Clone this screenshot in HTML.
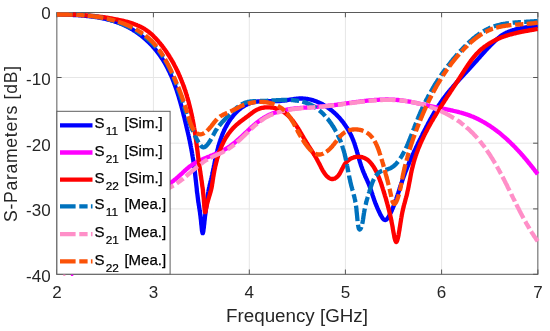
<!DOCTYPE html>
<html><head><meta charset="utf-8"><style>
html,body{margin:0;padding:0;background:#fff;}
svg{display:block;}
text{font-family:"Liberation Sans",Arial,sans-serif;fill:#262626;}
.tk{font-size:17px;}
.ax{font-size:18.8px;}
.ay{font-size:17.6px;}
.lg{font-size:15px;fill:#000;stroke:#000;stroke-width:0.25px;}
.sub{font-size:11.8px;fill:#000;stroke:#000;stroke-width:0.2px;}
</style></head><body>
<svg width="550" height="331" viewBox="0 0 550 331">
<rect width="550" height="331" fill="#fff"/>
<g stroke="#e6e6e6" stroke-width="1"><line x1="153.4" y1="12.5" x2="153.4" y2="274.3"/><line x1="249.3" y1="12.5" x2="249.3" y2="274.3"/><line x1="345.4" y1="12.5" x2="345.4" y2="274.3"/><line x1="441.6" y1="12.5" x2="441.6" y2="274.3"/><line x1="56.9" y1="77.5" x2="537.9" y2="77.5"/><line x1="56.9" y1="143.2" x2="537.9" y2="143.2"/><line x1="56.9" y1="208.9" x2="537.9" y2="208.9"/></g>
<g stroke="#555" stroke-width="1"><line x1="56.9" y1="274.3" x2="56.9" y2="269.5"/><line x1="56.9" y1="12.5" x2="56.9" y2="17.3"/><line x1="153.4" y1="274.3" x2="153.4" y2="269.5"/><line x1="153.4" y1="12.5" x2="153.4" y2="17.3"/><line x1="249.3" y1="274.3" x2="249.3" y2="269.5"/><line x1="249.3" y1="12.5" x2="249.3" y2="17.3"/><line x1="345.4" y1="274.3" x2="345.4" y2="269.5"/><line x1="345.4" y1="12.5" x2="345.4" y2="17.3"/><line x1="441.6" y1="274.3" x2="441.6" y2="269.5"/><line x1="441.6" y1="12.5" x2="441.6" y2="17.3"/><line x1="537.9" y1="274.3" x2="537.9" y2="269.5"/><line x1="537.9" y1="12.5" x2="537.9" y2="17.3"/><line x1="56.9" y1="12.5" x2="61.6" y2="12.5"/><line x1="537.9" y1="12.5" x2="533.1" y2="12.5"/><line x1="56.9" y1="77.5" x2="61.6" y2="77.5"/><line x1="537.9" y1="77.5" x2="533.1" y2="77.5"/><line x1="56.9" y1="143.2" x2="61.6" y2="143.2"/><line x1="537.9" y1="143.2" x2="533.1" y2="143.2"/><line x1="56.9" y1="208.9" x2="61.6" y2="208.9"/><line x1="537.9" y1="208.9" x2="533.1" y2="208.9"/><line x1="56.9" y1="274.3" x2="61.6" y2="274.3"/><line x1="537.9" y1="274.3" x2="533.1" y2="274.3"/></g>
<rect x="56.85" y="12.5" width="481.0" height="261.8" fill="none" stroke="#5a5a5a" stroke-width="1"/>
<g fill="none" stroke-linejoin="round"><path d="M57.01,14.30L57.9,14.3L58.7,14.4L59.6,14.4L60.4,14.4L61.3,14.4L62.1,14.5L63.0,14.5L63.9,14.5L64.7,14.6L65.6,14.6L66.5,14.6L67.3,14.7L68.2,14.7L69.1,14.8L70.0,14.8L70.9,14.8L71.7,14.9L72.6,14.9L73.5,15.0L74.4,15.0L75.3,15.1L76.2,15.1L77.1,15.2L78.0,15.2L78.9,15.3L79.8,15.4L80.6,15.4L81.5,15.5L82.4,15.6L83.3,15.6L84.2,15.7L85.1,15.8L86.0,15.9L86.9,16.0L87.8,16.1L88.7,16.2L89.6,16.3L90.5,16.4L91.4,16.5L92.3,16.6L93.2,16.7L94.1,16.8L95.0,17.0L95.9,17.1L96.7,17.2L97.6,17.4L98.5,17.5L99.4,17.7L100.3,17.9L101.2,18.0L102.0,18.2L102.9,18.4L103.8,18.6L104.7,18.7L105.5,18.9L106.4,19.1L107.3,19.4L108.2,19.6L109.0,19.8L109.9,20.0L110.7,20.3L111.6,20.5L112.4,20.8L113.3,21.0L114.1,21.3L115.0,21.6L115.8,21.8L116.6,22.1L117.5,22.4L118.3,22.7L119.1,23.0L119.9,23.4L120.8,23.7L121.6,24.0L122.4,24.4L123.2,24.7L124.0,25.1L124.8,25.5L125.6,25.9L126.4,26.2L127.1,26.6L127.9,27.0L128.7,27.5L129.5,27.9L130.2,28.3L131.0,28.7L131.7,29.2L132.5,29.6L133.2,30.1L134.0,30.6L134.7,31.0L135.4,31.5L136.2,32.0L136.9,32.5L137.6,33.0L138.3,33.5L139.0,34.0L139.7,34.6L140.4,35.1L141.1,35.6L141.8,36.2L142.5,36.7L143.2,37.3L143.8,37.8L144.5,38.4L145.2,39.0L145.8,39.6L146.5,40.2L147.1,40.8L147.8,41.4L148.4,42.0L149.0,42.6L149.6,43.2L150.2,43.8L150.9,44.5L151.5,45.1L152.1,45.7L152.7,46.4L153.2,47.0L153.8,47.7L154.4,48.4L155.0,49.0L155.5,49.7L156.1,50.4L156.6,51.1L157.2,51.8L157.7,52.5L158.3,53.2L158.8,53.9L159.3,54.6L159.8,55.3L160.3,56.0L160.8,56.7L161.3,57.5L161.8,58.2L162.3,58.9L162.8,59.7L163.2,60.4L163.7,61.2L164.1,61.9L164.6,62.7L165.0,63.4L165.5,64.2L165.9,65.0L166.3,65.8L166.7,66.5L167.1,67.3L167.5,68.1L168.0,68.9L168.3,69.7L168.7,70.5L169.1,71.3L169.5,72.1L169.9,72.9L170.2,73.7L170.6,74.5L171.0,75.3L171.3,76.1L171.7,76.9L172.0,77.7L172.4,78.6L172.7,79.4L173.0,80.2L173.3,81.0L173.7,81.9L174.0,82.7L174.3,83.6L174.6,84.4L174.9,85.2L175.2,86.1L175.5,86.9L175.8,87.8L176.1,88.6L176.4,89.5L176.7,90.3L177.0,91.2L177.2,92.0L177.5,92.9L177.8,93.7L178.0,94.6L178.3,95.4L178.6,96.3L178.8,97.1L179.1,98.0L179.3,98.9L179.6,99.7L179.8,100.6L180.1,101.4L180.3,102.3L180.6,103.2L180.8,104.0L181.0,104.9L181.3,105.8L181.5,106.6L181.7,107.5L182.0,108.3L182.2,109.2L182.4,110.1L182.6,110.9L182.9,111.8L183.1,112.6L183.3,113.5L183.5,114.4L183.7,115.2L183.9,116.1L184.2,116.9L184.4,117.8L184.6,118.6L184.8,119.5L185.0,120.4L185.2,121.2L185.4,122.1L185.6,122.9L185.8,123.8L186.0,124.6L186.2,125.5L186.4,126.3L186.6,127.2L186.8,128.0L187.0,128.9L187.2,129.7L187.4,130.6L187.6,131.4L187.8,132.3L188.0,133.1L188.2,134.0L188.4,134.8L188.6,135.7L188.8,136.5L189.0,137.3L189.1,138.2L189.3,139.0L189.5,139.9L189.7,140.8L189.9,141.6L190.0,142.5L190.2,143.3L190.4,144.2L190.5,145.0L190.7,145.9L190.9,146.7L191.0,147.6L191.2,148.4L191.4,149.3L191.5,150.2L191.7,151.0L191.8,151.9L192.0,152.8L192.1,153.6L192.3,154.5L192.4,155.4L192.6,156.2L192.7,157.1L192.9,158.0L193.0,158.9L193.2,159.7L193.3,160.6L193.4,161.5L193.6,162.4L193.7,163.3L193.8,164.1L193.9,165.0L194.1,165.9L194.2,166.8L194.3,167.7L194.4,168.6L194.5,169.5L194.6,170.4L194.7,171.3L194.9,172.2L195.0,173.1L195.1,174.0L195.2,174.9L195.3,175.8L195.4,176.7L195.5,177.6L195.6,178.5L195.7,179.4L195.8,180.3L195.9,181.2L196.0,182.1L196.1,183.0L196.2,183.9L196.3,184.8L196.4,185.7L196.5,186.6L196.6,187.5L196.7,188.3L196.8,189.2L196.8,190.1L196.9,191.0L197.0,191.8L197.1,192.7L197.3,193.6L197.4,194.4L197.5,195.3L197.6,196.1L197.7,196.9L197.8,197.8L197.9,198.6L198.0,199.4L198.1,200.2L198.2,201.1L198.3,201.9L198.5,202.7L198.6,203.4L198.7,204.2L198.8,205.0L199.0,205.8L199.1,206.6L199.2,207.4L199.3,208.3L199.5,209.1L199.6,209.9L199.7,210.8L199.9,211.7L200.0,212.6L200.1,213.5L200.2,214.5L200.4,215.5L200.5,216.5L200.6,217.5L200.7,218.6L200.9,219.7L201.0,220.8L201.1,222.0L201.2,223.2L201.3,224.4L201.5,225.6L201.6,226.8L201.7,227.9L201.8,228.9L201.9,229.9L202.0,230.7L202.2,231.5L202.3,232.1L202.4,232.6L202.5,233.0L202.6,233.2L202.8,233.2L202.9,233.0L203.0,232.6L203.1,232.1L203.3,231.5L203.4,230.7L203.5,229.8L203.6,228.8L203.8,227.8L203.9,226.7L204.0,225.5L204.2,224.3L204.3,223.2L204.4,222.0L204.5,220.8L204.7,219.6L204.8,218.5L204.9,217.5L205.0,216.5L205.1,215.5L205.3,214.5L205.4,213.6L205.5,212.7L205.6,211.8L205.7,210.9L205.8,210.1L205.9,209.2L206.0,208.4L206.2,207.6L206.3,206.8L206.4,206.0L206.5,205.2L206.6,204.4L206.7,203.6L206.8,202.8L206.9,202.0L207.0,201.2L207.1,200.3L207.2,199.5L207.3,198.6L207.5,197.8L207.6,196.9L207.7,196.0L207.8,195.1L207.9,194.3L208.1,193.4L208.2,192.5L208.4,191.6L208.5,190.7L208.7,189.8L208.9,189.0L209.0,188.1L209.2,187.2L209.4,186.4L209.6,185.5L209.8,184.6L210.1,183.8L210.3,182.9L210.5,182.1L210.7,181.2L210.9,180.3L211.1,179.5L211.3,178.6L211.5,177.8L211.7,176.9L211.9,176.0L212.1,175.2L212.3,174.3L212.4,173.4L212.6,172.6L212.8,171.7L213.0,170.8L213.2,170.0L213.3,169.1L213.5,168.2L213.7,167.4L213.9,166.5L214.0,165.6L214.2,164.8L214.4,163.9L214.6,163.0L214.7,162.2L214.9,161.3L215.1,160.4L215.3,159.6L215.5,158.7L215.7,157.9L215.8,157.0L216.0,156.1L216.2,155.3L216.4,154.4L216.6,153.5L216.8,152.7L217.0,151.8L217.2,151.0L217.4,150.1L217.7,149.3L217.9,148.4L218.1,147.6L218.3,146.7L218.6,145.8L218.8,145.0L219.1,144.2L219.3,143.3L219.6,142.5L219.8,141.6L220.1,140.8L220.4,139.9L220.7,139.1L221.0,138.3L221.3,137.4L221.6,136.6L221.9,135.8L222.2,134.9L222.5,134.1L222.9,133.3L223.2,132.5L223.6,131.6L224.0,130.8L224.3,130.0L224.7,129.2L225.1,128.4L225.5,127.6L225.9,126.8L226.4,126.0L226.8,125.2L227.2,124.4L227.7,123.6L228.2,122.9L228.6,122.1L229.1,121.3L229.6,120.6L230.1,119.8L230.6,119.1L231.1,118.4L231.7,117.7L232.2,117.0L232.8,116.3L233.3,115.6L233.9,114.9L234.5,114.2L235.1,113.6L235.6,112.9L236.3,112.3L236.9,111.7L237.5,111.1L238.1,110.5L238.8,109.9L239.4,109.4L240.1,108.8L240.7,108.3L241.4,107.8L242.1,107.3L242.8,106.8L243.5,106.4L244.2,105.9L245.0,105.5L245.7,105.1L246.5,104.7L247.2,104.4L248.0,104.0L248.7,103.7L249.5,103.4L250.3,103.1L251.1,102.8L251.9,102.6L252.8,102.4L253.6,102.2L254.4,102.0L255.3,101.9L256.1,101.7L257.0,101.6L257.8,101.5L258.7,101.4L259.6,101.4L260.5,101.3L261.4,101.3L262.3,101.2L263.2,101.2L264.1,101.2L265.0,101.2L265.9,101.2L266.8,101.2L267.8,101.2L268.7,101.2L269.6,101.2L270.5,101.2L271.4,101.2L272.4,101.2L273.3,101.2L274.2,101.2L275.1,101.2L276.1,101.2L277.0,101.1L277.9,101.1L278.8,101.1L279.7,101.0L280.7,100.9L281.6,100.8L282.5,100.7L283.4,100.6L284.3,100.5L285.2,100.4L286.1,100.3L287.0,100.1L287.9,100.0L288.7,99.8L289.6,99.7L290.5,99.6L291.4,99.4L292.3,99.3L293.1,99.2L294.0,99.0L294.9,98.9L295.7,98.8L296.6,98.7L297.5,98.7L298.3,98.6L299.2,98.5L300.0,98.5L300.9,98.5L301.8,98.5L302.6,98.5L303.5,98.6L304.3,98.6L305.2,98.7L306.0,98.8L306.9,98.9L307.7,99.0L308.5,99.2L309.4,99.3L310.2,99.5L311.0,99.7L311.9,99.9L312.7,100.2L313.5,100.4L314.3,100.7L315.1,101.0L315.9,101.3L316.7,101.6L317.5,101.9L318.3,102.2L319.1,102.6L319.9,103.0L320.7,103.3L321.5,103.7L322.3,104.1L323.0,104.6L323.8,105.0L324.6,105.5L325.3,105.9L326.1,106.4L326.8,106.9L327.5,107.4L328.3,107.9L329.0,108.4L329.7,109.0L330.4,109.5L331.1,110.1L331.8,110.6L332.5,111.2L333.2,111.8L333.9,112.4L334.6,113.0L335.2,113.6L335.9,114.2L336.5,114.9L337.2,115.5L337.8,116.2L338.4,116.8L339.1,117.5L339.7,118.2L340.3,118.9L340.9,119.6L341.5,120.3L342.0,121.0L342.6,121.7L343.2,122.4L343.7,123.1L344.2,123.9L344.8,124.6L345.3,125.4L345.8,126.1L346.3,126.9L346.8,127.6L347.3,128.4L347.8,129.2L348.2,129.9L348.7,130.7L349.1,131.5L349.5,132.3L350.0,133.1L350.4,133.9L350.8,134.7L351.2,135.5L351.5,136.3L351.9,137.1L352.3,137.9L352.6,138.7L352.9,139.5L353.2,140.3L353.6,141.1L353.9,142.0L354.2,142.8L354.5,143.6L354.7,144.4L355.0,145.3L355.3,146.1L355.5,146.9L355.8,147.7L356.1,148.6L356.3,149.4L356.6,150.2L356.8,151.1L357.0,151.9L357.3,152.7L357.5,153.6L357.8,154.4L358.0,155.2L358.2,156.1L358.5,156.9L358.7,157.8L359.0,158.6L359.2,159.4L359.4,160.3L359.7,161.1L359.9,162.0L360.2,162.8L360.5,163.6L360.7,164.5L361.0,165.3L361.3,166.2L361.6,167.0L361.9,167.8L362.2,168.7L362.5,169.5L362.8,170.3L363.1,171.2L363.5,172.0L363.8,172.8L364.2,173.7L364.5,174.5L364.9,175.3L365.2,176.2L365.6,177.0L366.0,177.8L366.4,178.7L366.7,179.5L367.1,180.3L367.5,181.1L367.8,182.0L368.2,182.8L368.5,183.6L368.9,184.5L369.2,185.3L369.5,186.1L369.8,186.9L370.1,187.8L370.4,188.6L370.7,189.4L371.0,190.2L371.3,191.1L371.5,191.9L371.8,192.7L372.1,193.5L372.3,194.3L372.6,195.2L372.9,196.0L373.1,196.8L373.4,197.6L373.7,198.4L374.0,199.2L374.2,200.0L374.5,200.8L374.8,201.6L375.1,202.4L375.4,203.2L375.7,204.0L376.1,204.8L376.4,205.7L376.8,206.5L377.1,207.4L377.5,208.3L377.9,209.2L378.3,210.1L378.7,211.0L379.2,212.0L379.7,213.0L380.1,214.0L380.6,215.0L381.2,215.9L381.7,216.8L382.2,217.6L382.7,218.4L383.3,219.0L383.8,219.5L384.4,219.8L385.0,220.0L385.5,220.0L386.1,219.8L386.6,219.4L387.1,218.8L387.7,218.2L388.2,217.4L388.7,216.6L389.2,215.7L389.6,214.8L390.1,213.9L390.5,213.1L391.0,212.2L391.4,211.3L391.8,210.5L392.1,209.6L392.5,208.8L392.9,207.9L393.2,207.1L393.6,206.2L393.9,205.4L394.2,204.5L394.5,203.7L394.9,202.9L395.2,202.0L395.5,201.2L395.8,200.3L396.1,199.5L396.4,198.6L396.6,197.8L396.9,197.0L397.2,196.1L397.5,195.3L397.8,194.4L398.0,193.6L398.3,192.8L398.6,191.9L398.9,191.1L399.1,190.3L399.4,189.4L399.7,188.6L399.9,187.7L400.2,186.9L400.5,186.1L400.8,185.2L401.0,184.4L401.3,183.6L401.6,182.7L401.9,181.9L402.1,181.1L402.4,180.2L402.7,179.4L403.0,178.6L403.3,177.8L403.6,176.9L403.9,176.1L404.2,175.3L404.5,174.5L404.8,173.6L405.1,172.8L405.4,172.0L405.7,171.2L406.1,170.4L406.4,169.6L406.7,168.7L407.0,167.9L407.4,167.1L407.7,166.3L408.0,165.5L408.4,164.7L408.7,163.9L409.0,163.0L409.4,162.2L409.7,161.4L410.1,160.6L410.4,159.8L410.8,159.0L411.1,158.2L411.5,157.4L411.9,156.6L412.2,155.8L412.6,155.0L413.0,154.2L413.3,153.4L413.7,152.6L414.1,151.8L414.4,151.0L414.8,150.2L415.2,149.4L415.6,148.6L415.9,147.8L416.3,147.0L416.7,146.2L417.1,145.4L417.5,144.6L417.8,143.8L418.2,143.0L418.6,142.2L419.0,141.4L419.4,140.6L419.8,139.8L420.2,139.0L420.6,138.3L421.0,137.5L421.4,136.7L421.8,135.9L422.2,135.1L422.5,134.3L422.9,133.5L423.3,132.7L423.7,131.9L424.1,131.2L424.5,130.4L424.9,129.6L425.4,128.8L425.8,128.0L426.2,127.2L426.6,126.4L427.0,125.7L427.4,124.9L427.8,124.1L428.2,123.3L428.6,122.6L429.1,121.8L429.5,121.0L429.9,120.2L430.3,119.5L430.8,118.7L431.2,117.9L431.6,117.2L432.0,116.4L432.5,115.6L432.9,114.9L433.4,114.1L433.8,113.3L434.3,112.6L434.7,111.8L435.2,111.1L435.6,110.3L436.1,109.6L436.6,108.8L437.0,108.1L437.5,107.3L438.0,106.6L438.4,105.9L438.9,105.1L439.4,104.4L439.9,103.7L440.4,102.9L440.9,102.2L441.4,101.5L441.9,100.8L442.4,100.1L442.9,99.3L443.4,98.6L444.0,97.9L444.5,97.2L445.0,96.5L445.6,95.8L446.1,95.1L446.6,94.4L447.2,93.7L447.7,93.0L448.3,92.3L448.8,91.7L449.4,91.0L450.0,90.3L450.5,89.6L451.1,88.9L451.7,88.3L452.3,87.6L452.8,86.9L453.4,86.2L454.0,85.6L454.6,84.9L455.2,84.2L455.7,83.6L456.3,82.9L456.9,82.2L457.5,81.6L458.1,80.9L458.7,80.3L459.3,79.6L459.9,78.9L460.5,78.3L461.1,77.6L461.7,77.0L462.3,76.3L462.9,75.7L463.5,75.0L464.1,74.4L464.7,73.7L465.3,73.1L465.9,72.4L466.5,71.8L467.1,71.1L467.7,70.5L468.3,69.8L468.9,69.2L469.5,68.5L470.1,67.9L470.7,67.2L471.3,66.6L471.9,65.9L472.5,65.2L473.1,64.6L473.6,63.9L474.2,63.3L474.8,62.6L475.4,62.0L476.0,61.3L476.6,60.7L477.1,60.0L477.7,59.3L478.3,58.7L478.9,58.0L479.5,57.4L480.0,56.7L480.6,56.1L481.2,55.4L481.8,54.8L482.4,54.1L483.0,53.4L483.6,52.8L484.2,52.1L484.7,51.5L485.3,50.8L485.9,50.2L486.5,49.5L487.1,48.9L487.7,48.3L488.4,47.6L489.0,47.0L489.6,46.3L490.2,45.7L490.8,45.1L491.5,44.4L492.1,43.8L492.7,43.1L493.4,42.5L494.0,41.9L494.7,41.3L495.3,40.7L496.0,40.1L496.6,39.5L497.3,38.9L498.0,38.3L498.7,37.7L499.4,37.2L500.1,36.6L500.8,36.1L501.5,35.6L502.2,35.1L503.0,34.6L503.7,34.2L504.5,33.7L505.2,33.3L506.0,32.9L506.8,32.5L507.6,32.2L508.4,31.8L509.2,31.5L510.0,31.2L510.8,30.9L511.6,30.6L512.5,30.3L513.3,30.0L514.2,29.8L515.0,29.6L515.9,29.4L516.7,29.1L517.6,28.9L518.4,28.7L519.3,28.6L520.2,28.4L521.0,28.2L521.9,28.1L522.8,27.9L523.7,27.8L524.6,27.6L525.4,27.5L526.3,27.4L527.2,27.2L528.1,27.1L529.0,27.0L529.9,26.9L530.7,26.7L531.6,26.6L532.5,26.5L533.4,26.4L534.2,26.2L535.1,26.1L536.0,26.0L536.8,25.8L537.7,25.7" stroke="#0000ff" stroke-width="4.3"/><path d="M130.00,196.00L130.7,195.7L131.4,195.3L132.1,195.0L132.8,194.7L133.6,194.4L134.3,194.2L135.1,193.9L135.8,193.6L136.6,193.4L137.3,193.2L138.1,192.9L138.8,192.7L139.6,192.5L140.4,192.3L141.2,192.1L141.9,191.9L142.7,191.7L143.5,191.5L144.3,191.3L145.1,191.1L145.9,190.9L146.7,190.7L147.5,190.5L148.3,190.3L149.0,190.2L149.8,190.0L150.6,189.8L151.4,189.6L152.2,189.4L153.0,189.2L153.8,189.0L154.6,188.8L155.4,188.6L156.2,188.4L157.0,188.2L157.7,188.0L158.5,187.8L159.3,187.6L160.0,187.3L160.8,187.1L161.6,186.8L162.3,186.6L163.1,186.3L163.8,186.0L164.6,185.7L165.3,185.4L166.0,185.1L166.8,184.8L167.5,184.4L168.2,184.1L168.9,183.7L169.6,183.3L170.3,182.9L170.9,182.5L171.6,182.1L172.3,181.7L172.9,181.2L173.6,180.7L174.2,180.2L174.8,179.7L175.4,179.2L176.1,178.7L176.7,178.2L177.3,177.7L177.9,177.1L178.5,176.6L179.1,176.0L179.7,175.5L180.3,174.9L180.9,174.4L181.5,173.8L182.1,173.3L182.7,172.7L183.3,172.1L183.9,171.6L184.5,171.0L185.1,170.5L185.7,169.9L186.3,169.4L186.9,168.9L187.5,168.3L188.1,167.8L188.7,167.3L189.4,166.8L190.0,166.4L190.6,165.9L191.3,165.4L191.9,165.0L192.6,164.6L193.2,164.1L193.9,163.7L194.6,163.3L195.3,162.9L195.9,162.5L196.6,162.2L197.3,161.8L198.0,161.4L198.7,161.1L199.4,160.7L200.1,160.4L200.8,160.1L201.5,159.7L202.2,159.4L203.0,159.1L203.7,158.8L204.4,158.5L205.1,158.2L205.8,157.9L206.6,157.6L207.3,157.3L208.0,157.0L208.7,156.7L209.5,156.4L210.2,156.1L210.9,155.8L211.6,155.5L212.4,155.2L213.1,154.9L213.8,154.6L214.6,154.3L215.3,154.0L216.0,153.7L216.7,153.4L217.5,153.1L218.2,152.8L218.9,152.5L219.6,152.1L220.3,151.8L221.0,151.4L221.7,151.1L222.4,150.7L223.1,150.4L223.8,150.0L224.5,149.6L225.2,149.2L225.9,148.8L226.6,148.4L227.2,148.0L227.9,147.6L228.6,147.2L229.2,146.7L229.9,146.3L230.5,145.8L231.2,145.3L231.8,144.8L232.5,144.3L233.1,143.8L233.8,143.3L234.4,142.8L235.0,142.3L235.6,141.8L236.3,141.3L236.9,140.7L237.5,140.2L238.1,139.7L238.7,139.1L239.3,138.6L240.0,138.0L240.6,137.5L241.2,136.9L241.8,136.3L242.4,135.8L243.0,135.2L243.6,134.7L244.2,134.1L244.8,133.5L245.4,133.0L246.0,132.4L246.6,131.8L247.2,131.3L247.8,130.7L248.4,130.1L249.0,129.6L249.6,129.0L250.2,128.5L250.8,127.9L251.4,127.4L252.0,126.8L252.6,126.3L253.2,125.7L253.8,125.2L254.5,124.7L255.1,124.2L255.7,123.7L256.3,123.1L256.9,122.6L257.6,122.1L258.2,121.7L258.8,121.2L259.5,120.7L260.1,120.3L260.7,119.8L261.4,119.4L262.0,118.9L262.7,118.5L263.3,118.1L264.0,117.7L264.6,117.3L265.3,116.9L266.0,116.5L266.7,116.2L267.3,115.8L268.0,115.5L268.7,115.1L269.4,114.8L270.1,114.5L270.8,114.2L271.5,113.9L272.2,113.6L272.9,113.4L273.6,113.1L274.4,112.8L275.1,112.6L275.8,112.4L276.5,112.1L277.3,111.9L278.0,111.7L278.7,111.5L279.5,111.3L280.2,111.1L281.0,110.9L281.7,110.7L282.5,110.5L283.2,110.4L284.0,110.2L284.7,110.1L285.5,109.9L286.3,109.8L287.0,109.6L287.8,109.5L288.6,109.4L289.3,109.3L290.1,109.1L290.9,109.0L291.7,108.9L292.5,108.8L293.2,108.7L294.0,108.6L294.8,108.5L295.6,108.4L296.4,108.4L297.2,108.3L298.0,108.2L298.8,108.1L299.6,108.1L300.4,108.0L301.2,107.9L302.0,107.9L302.8,107.8L303.6,107.7L304.4,107.7L305.2,107.6L306.0,107.6L306.8,107.5L307.6,107.4L308.4,107.4L309.2,107.3L310.0,107.3L310.8,107.2L311.6,107.2L312.5,107.1L313.3,107.1L314.1,107.0L314.9,107.0L315.7,106.9L316.5,106.8L317.3,106.8L318.1,106.7L318.9,106.7L319.7,106.6L320.6,106.5L321.4,106.5L322.2,106.4L323.0,106.3L323.8,106.2L324.6,106.2L325.4,106.1L326.2,106.0L327.0,105.9L327.8,105.8L328.6,105.7L329.4,105.6L330.2,105.6L331.0,105.5L331.8,105.4L332.6,105.3L333.4,105.2L334.2,105.1L335.0,105.0L335.8,104.9L336.6,104.8L337.4,104.6L338.2,104.5L339.0,104.4L339.8,104.3L340.6,104.2L341.4,104.1L342.2,104.0L343.0,103.9L343.8,103.8L344.6,103.7L345.4,103.5L346.2,103.4L347.0,103.3L347.8,103.2L348.6,103.1L349.4,103.0L350.2,102.9L351.0,102.8L351.7,102.7L352.5,102.5L353.3,102.4L354.1,102.3L354.9,102.2L355.7,102.1L356.5,102.0L357.3,101.9L358.1,101.8L358.9,101.7L359.7,101.6L360.4,101.5L361.2,101.4L362.0,101.3L362.8,101.2L363.6,101.1L364.4,101.0L365.2,100.9L366.0,100.8L366.8,100.7L367.5,100.7L368.3,100.6L369.1,100.5L369.9,100.4L370.7,100.3L371.5,100.3L372.3,100.2L373.0,100.1L373.8,100.1L374.6,100.0L375.4,100.0L376.2,99.9L377.0,99.9L377.8,99.8L378.5,99.8L379.3,99.7L380.1,99.7L380.9,99.7L381.7,99.6L382.5,99.6L383.2,99.6L384.0,99.6L384.8,99.6L385.6,99.5L386.4,99.5L387.2,99.5L387.9,99.5L388.7,99.6L389.5,99.6L390.3,99.6L391.1,99.6L391.9,99.6L392.7,99.7L393.4,99.7L394.2,99.7L395.0,99.8L395.8,99.8L396.6,99.9L397.4,100.0L398.1,100.0L398.9,100.1L399.7,100.2L400.5,100.3L401.3,100.4L402.1,100.5L402.8,100.6L403.6,100.7L404.4,100.8L405.2,100.9L406.0,101.0L406.8,101.2L407.5,101.3L408.3,101.4L409.1,101.6L409.9,101.7L410.7,101.9L411.5,102.0L412.3,102.2L413.0,102.3L413.8,102.5L414.6,102.7L415.4,102.8L416.2,103.0L417.0,103.1L417.8,103.3L418.5,103.5L419.3,103.7L420.1,103.8L420.9,104.0L421.7,104.2L422.5,104.4L423.3,104.5L424.1,104.7L424.9,104.9L425.6,105.1L426.4,105.2L427.2,105.4L428.0,105.6L428.8,105.8L429.6,105.9L430.4,106.1L431.2,106.3L432.0,106.5L432.8,106.6L433.6,106.8L434.4,107.0L435.2,107.1L435.9,107.3L436.7,107.4L437.5,107.6L438.3,107.7L439.1,107.9L439.9,108.1L440.7,108.2L441.5,108.4L442.3,108.5L443.1,108.7L443.9,108.8L444.7,109.0L445.5,109.1L446.3,109.3L447.1,109.5L447.8,109.6L448.6,109.8L449.4,109.9L450.2,110.1L451.0,110.3L451.8,110.4L452.6,110.6L453.3,110.8L454.1,111.0L454.9,111.2L455.7,111.3L456.5,111.5L457.2,111.7L458.0,111.9L458.8,112.1L459.5,112.3L460.3,112.5L461.1,112.7L461.8,112.9L462.6,113.2L463.4,113.4L464.1,113.6L464.9,113.8L465.6,114.1L466.4,114.3L467.1,114.6L467.9,114.8L468.6,115.1L469.3,115.4L470.1,115.6L470.8,115.9L471.5,116.2L472.3,116.5L473.0,116.8L473.7,117.1L474.4,117.4L475.1,117.8L475.9,118.1L476.6,118.4L477.3,118.8L478.0,119.1L478.7,119.4L479.4,119.8L480.1,120.2L480.8,120.5L481.5,120.9L482.2,121.3L482.8,121.6L483.5,122.0L484.2,122.4L484.9,122.8L485.6,123.2L486.2,123.6L486.9,124.0L487.6,124.5L488.2,124.9L488.9,125.3L489.6,125.7L490.2,126.2L490.9,126.6L491.5,127.1L492.2,127.5L492.8,128.0L493.5,128.4L494.1,128.9L494.8,129.3L495.4,129.8L496.0,130.3L496.7,130.8L497.3,131.3L497.9,131.7L498.6,132.2L499.2,132.7L499.8,133.2L500.4,133.7L501.0,134.2L501.7,134.7L502.3,135.3L502.9,135.8L503.5,136.3L504.1,136.8L504.7,137.3L505.3,137.9L505.9,138.4L506.5,138.9L507.1,139.5L507.7,140.0L508.2,140.6L508.8,141.1L509.4,141.7L510.0,142.2L510.6,142.8L511.2,143.3L511.7,143.9L512.3,144.5L512.9,145.0L513.4,145.6L514.0,146.2L514.6,146.8L515.1,147.3L515.7,147.9L516.2,148.5L516.8,149.1L517.3,149.7L517.9,150.3L518.4,150.8L519.0,151.4L519.5,152.0L520.1,152.6L520.6,153.2L521.1,153.8L521.7,154.4L522.2,155.0L522.7,155.6L523.3,156.2L523.8,156.9L524.3,157.5L524.8,158.1L525.4,158.7L525.9,159.3L526.4,159.9L526.9,160.5L527.4,161.1L527.9,161.8L528.4,162.4L528.9,163.0L529.4,163.6L529.9,164.2L530.4,164.8L530.9,165.5L531.4,166.1L531.9,166.7L532.4,167.3L532.9,168.0L533.4,168.6L533.9,169.2L534.4,169.8L534.8,170.5L535.3,171.1L535.8,171.7L536.3,172.3L536.8,172.9L537.2,173.6L537.7,174.2" stroke="#ff00ff" stroke-width="4.3"/><path d="M57.00,14.30L57.8,14.3L58.7,14.3L59.5,14.3L60.3,14.3L61.2,14.3L62.0,14.3L62.8,14.3L63.6,14.3L64.5,14.3L65.3,14.4L66.1,14.4L66.9,14.4L67.8,14.4L68.6,14.4L69.4,14.4L70.2,14.5L71.1,14.5L71.9,14.5L72.7,14.5L73.5,14.6L74.4,14.6L75.2,14.6L76.0,14.7L76.8,14.7L77.6,14.8L78.5,14.8L79.3,14.8L80.1,14.9L80.9,14.9L81.7,15.0L82.6,15.0L83.4,15.1L84.2,15.2L85.0,15.2L85.8,15.3L86.7,15.3L87.5,15.4L88.3,15.5L89.1,15.5L89.9,15.6L90.7,15.7L91.6,15.8L92.4,15.8L93.2,15.9L94.0,16.0L94.8,16.1L95.6,16.2L96.4,16.3L97.3,16.4L98.1,16.5L98.9,16.6L99.7,16.7L100.5,16.8L101.3,16.9L102.1,17.0L103.0,17.1L103.8,17.2L104.6,17.4L105.4,17.5L106.2,17.6L107.0,17.7L107.8,17.9L108.7,18.0L109.5,18.1L110.3,18.3L111.1,18.4L111.9,18.5L112.7,18.7L113.5,18.8L114.4,19.0L115.2,19.2L116.0,19.3L116.8,19.5L117.6,19.6L118.4,19.8L119.2,20.0L120.0,20.2L120.9,20.3L121.7,20.5L122.5,20.7L123.3,20.9L124.1,21.1L124.9,21.3L125.7,21.5L126.5,21.7L127.3,21.9L128.1,22.1L128.9,22.4L129.7,22.6L130.5,22.9L131.3,23.1L132.1,23.4L132.9,23.6L133.7,23.9L134.5,24.2L135.2,24.5L136.0,24.8L136.8,25.1L137.5,25.4L138.3,25.7L139.0,26.0L139.8,26.4L140.5,26.7L141.2,27.1L141.9,27.5L142.7,27.9L143.4,28.3L144.1,28.7L144.8,29.1L145.4,29.6L146.1,30.0L146.8,30.5L147.4,31.0L148.1,31.4L148.7,31.9L149.4,32.5L150.0,33.0L150.6,33.5L151.3,34.0L151.9,34.6L152.5,35.2L153.1,35.7L153.7,36.3L154.2,36.9L154.8,37.5L155.4,38.1L156.0,38.7L156.5,39.3L157.1,39.9L157.6,40.5L158.2,41.1L158.7,41.8L159.2,42.4L159.8,43.0L160.3,43.7L160.8,44.3L161.3,45.0L161.9,45.6L162.4,46.3L162.9,46.9L163.4,47.6L163.8,48.3L164.3,48.9L164.8,49.6L165.3,50.3L165.8,50.9L166.2,51.6L166.7,52.3L167.2,53.0L167.6,53.7L168.1,54.4L168.5,55.1L169.0,55.8L169.4,56.4L169.8,57.1L170.3,57.9L170.7,58.6L171.1,59.3L171.5,60.0L172.0,60.7L172.4,61.4L172.8,62.1L173.2,62.8L173.6,63.6L174.0,64.3L174.3,65.0L174.7,65.7L175.1,66.5L175.5,67.2L175.9,67.9L176.2,68.7L176.6,69.4L177.0,70.2L177.3,70.9L177.7,71.6L178.0,72.4L178.4,73.1L178.7,73.9L179.0,74.6L179.4,75.4L179.7,76.2L180.0,76.9L180.3,77.7L180.7,78.4L181.0,79.2L181.3,80.0L181.6,80.7L181.9,81.5L182.2,82.3L182.5,83.0L182.8,83.8L183.1,84.6L183.4,85.3L183.6,86.1L183.9,86.9L184.2,87.7L184.5,88.4L184.7,89.2L185.0,90.0L185.3,90.8L185.5,91.6L185.8,92.4L186.0,93.1L186.3,93.9L186.5,94.7L186.8,95.5L187.0,96.3L187.2,97.1L187.5,97.9L187.7,98.6L187.9,99.4L188.1,100.2L188.4,101.0L188.6,101.8L188.8,102.6L189.0,103.4L189.2,104.2L189.4,105.0L189.6,105.8L189.8,106.6L190.0,107.4L190.2,108.2L190.4,109.0L190.6,109.8L190.8,110.6L191.0,111.4L191.1,112.2L191.3,113.0L191.5,113.8L191.7,114.6L191.8,115.4L192.0,116.2L192.2,117.0L192.3,117.8L192.5,118.7L192.7,119.5L192.8,120.3L193.0,121.1L193.1,121.9L193.3,122.7L193.4,123.5L193.6,124.3L193.7,125.1L193.8,126.0L194.0,126.8L194.1,127.6L194.3,128.4L194.4,129.2L194.5,130.0L194.6,130.8L194.8,131.7L194.9,132.5L195.0,133.3L195.2,134.1L195.3,134.9L195.4,135.7L195.5,136.6L195.6,137.4L195.7,138.2L195.9,139.0L196.0,139.8L196.1,140.7L196.2,141.5L196.3,142.3L196.4,143.1L196.5,143.9L196.6,144.8L196.7,145.6L196.8,146.4L197.0,147.2L197.1,148.0L197.2,148.9L197.3,149.7L197.4,150.5L197.5,151.3L197.6,152.1L197.7,153.0L197.8,153.8L197.9,154.6L198.0,155.4L198.1,156.2L198.2,157.0L198.3,157.9L198.4,158.7L198.5,159.5L198.7,160.3L198.8,161.1L198.9,161.9L199.0,162.7L199.1,163.6L199.2,164.4L199.3,165.2L199.4,166.0L199.5,166.8L199.7,167.6L199.8,168.4L199.9,169.2L200.0,170.0L200.1,170.8L200.3,171.6L200.4,172.4L200.5,173.2L200.6,174.0L200.7,174.9L200.9,175.7L201.0,176.5L201.1,177.3L201.2,178.1L201.3,178.9L201.4,179.7L201.6,180.5L201.7,181.2L201.8,182.0L201.9,182.8L202.0,183.6L202.1,184.4L202.2,185.2L202.3,186.0L202.4,186.8L202.6,187.6L202.7,188.4L202.8,189.3L202.9,190.1L203.0,190.9L203.0,191.8L203.1,192.6L203.2,193.5L203.3,194.4L203.4,195.3L203.5,196.2L203.6,197.1L203.7,198.1L203.8,199.1L203.9,200.1L203.9,201.1L204.0,202.1L204.1,203.2L204.2,204.3L204.2,205.3L204.3,206.4L204.4,207.4L204.5,208.3L204.6,209.2L204.7,210.0L204.7,210.7L204.8,211.3L204.9,211.8L205.0,212.1L205.1,212.2L205.2,212.2L205.4,212.0L205.5,211.7L205.6,211.2L205.7,210.6L205.9,209.8L206.0,209.0L206.2,208.2L206.4,207.2L206.6,206.3L206.8,205.3L207.0,204.4L207.2,203.4L207.5,202.5L207.7,201.6L208.0,200.6L208.2,199.7L208.5,198.8L208.8,197.9L209.0,197.0L209.3,196.1L209.6,195.3L209.8,194.4L210.1,193.5L210.3,192.7L210.6,191.8L210.8,191.0L211.0,190.2L211.2,189.4L211.4,188.5L211.6,187.7L211.7,187.0L211.9,186.2L212.0,185.4L212.1,184.6L212.2,183.8L212.4,183.0L212.5,182.3L212.6,181.5L212.7,180.7L212.8,179.9L213.0,179.1L213.1,178.3L213.2,177.5L213.3,176.7L213.5,176.0L213.6,175.2L213.7,174.4L213.9,173.6L214.0,172.8L214.2,171.9L214.3,171.1L214.5,170.3L214.6,169.5L214.8,168.7L215.0,167.9L215.1,167.1L215.3,166.3L215.5,165.5L215.7,164.7L215.9,163.9L216.1,163.1L216.3,162.3L216.5,161.5L216.7,160.7L216.9,159.9L217.1,159.1L217.3,158.3L217.6,157.5L217.8,156.7L218.0,155.9L218.3,155.1L218.5,154.3L218.8,153.5L219.1,152.7L219.3,151.9L219.6,151.2L219.9,150.4L220.2,149.6L220.5,148.8L220.8,148.1L221.1,147.3L221.4,146.5L221.7,145.8L222.1,145.0L222.4,144.3L222.8,143.6L223.1,142.8L223.5,142.1L223.8,141.4L224.2,140.6L224.6,139.9L225.0,139.2L225.4,138.5L225.8,137.8L226.3,137.1L226.7,136.4L227.1,135.7L227.6,135.1L228.0,134.4L228.5,133.7L229.0,133.1L229.5,132.4L230.0,131.8L230.5,131.1L231.0,130.5L231.5,129.9L232.1,129.3L232.6,128.7L233.2,128.1L233.7,127.5L234.3,126.9L234.9,126.3L235.5,125.8L236.1,125.2L236.7,124.7L237.4,124.1L238.0,123.6L238.6,123.1L239.3,122.5L239.9,122.0L240.6,121.5L241.2,121.0L241.9,120.5L242.6,120.0L243.2,119.5L243.9,119.0L244.6,118.5L245.3,118.0L245.9,117.5L246.6,117.0L247.3,116.5L248.0,116.0L248.6,115.5L249.3,115.0L249.9,114.5L250.6,114.0L251.3,113.5L251.9,113.0L252.6,112.5L253.2,112.1L253.9,111.6L254.5,111.1L255.2,110.7L255.9,110.3L256.6,109.9L257.3,109.5L258.1,109.2L258.8,108.9L259.6,108.6L260.3,108.4L261.1,108.1L261.9,107.9L262.7,107.8L263.5,107.6L264.4,107.5L265.2,107.4L266.0,107.4L266.9,107.3L267.7,107.3L268.5,107.3L269.4,107.3L270.2,107.4L271.0,107.5L271.9,107.6L272.7,107.7L273.5,107.8L274.3,108.0L275.1,108.2L275.9,108.4L276.7,108.7L277.5,108.9L278.3,109.2L279.0,109.5L279.7,109.8L280.5,110.2L281.2,110.5L281.9,110.9L282.6,111.3L283.2,111.7L283.9,112.2L284.5,112.6L285.2,113.1L285.8,113.6L286.4,114.1L287.0,114.6L287.6,115.2L288.2,115.7L288.8,116.3L289.4,116.8L289.9,117.4L290.5,118.0L291.0,118.6L291.5,119.3L292.1,119.9L292.6,120.5L293.1,121.2L293.6,121.8L294.1,122.5L294.6,123.2L295.1,123.9L295.6,124.6L296.0,125.2L296.5,125.9L297.0,126.7L297.4,127.4L297.9,128.1L298.3,128.8L298.8,129.5L299.2,130.2L299.7,131.0L300.1,131.7L300.5,132.4L301.0,133.2L301.4,133.9L301.8,134.6L302.2,135.4L302.7,136.1L303.1,136.8L303.5,137.5L303.9,138.3L304.4,139.0L304.8,139.7L305.2,140.4L305.6,141.1L306.0,141.8L306.5,142.5L306.9,143.2L307.3,143.8L307.7,144.5L308.2,145.2L308.6,145.9L309.0,146.5L309.5,147.2L309.9,147.9L310.3,148.5L310.7,149.2L311.2,149.9L311.6,150.5L312.0,151.2L312.4,151.9L312.9,152.5L313.3,153.2L313.7,153.9L314.1,154.6L314.6,155.2L315.0,155.9L315.4,156.6L315.8,157.3L316.2,158.0L316.6,158.8L317.0,159.5L317.4,160.2L317.8,161.0L318.2,161.7L318.6,162.5L319.0,163.2L319.4,164.0L319.8,164.8L320.2,165.6L320.6,166.4L321.0,167.2L321.4,168.0L321.8,168.8L322.2,169.5L322.6,170.3L323.1,171.1L323.5,171.8L324.0,172.5L324.5,173.2L325.0,173.9L325.5,174.6L326.1,175.3L326.6,175.9L327.2,176.5L327.8,177.1L328.5,177.6L329.1,178.0L329.8,178.4L330.4,178.7L331.1,178.9L331.8,179.0L332.5,179.0L333.2,179.0L333.9,178.8L334.6,178.6L335.2,178.2L335.9,177.8L336.5,177.4L337.1,176.9L337.7,176.3L338.3,175.6L338.8,175.0L339.3,174.3L339.8,173.5L340.2,172.7L340.7,171.9L341.1,171.1L341.5,170.3L341.9,169.4L342.3,168.6L342.8,167.7L343.2,166.9L343.6,166.1L344.1,165.3L344.6,164.5L345.1,163.7L345.6,163.0L346.2,162.4L346.8,161.7L347.4,161.1L348.0,160.6L348.7,160.0L349.3,159.5L350.0,159.1L350.7,158.7L351.5,158.3L352.2,158.0L353.0,157.7L353.7,157.4L354.5,157.2L355.3,157.0L356.0,156.9L356.8,156.8L357.6,156.8L358.4,156.7L359.2,156.8L360.0,156.8L360.7,156.9L361.5,157.1L362.3,157.2L363.0,157.5L363.7,157.7L364.5,158.0L365.2,158.4L365.9,158.8L366.5,159.2L367.2,159.6L367.9,160.1L368.5,160.7L369.1,161.2L369.7,161.8L370.3,162.4L370.8,163.1L371.4,163.7L371.9,164.4L372.5,165.2L373.0,165.9L373.5,166.6L373.9,167.4L374.4,168.2L374.9,169.0L375.3,169.8L375.7,170.6L376.2,171.4L376.6,172.2L377.0,173.1L377.3,173.9L377.7,174.7L378.1,175.5L378.4,176.4L378.8,177.2L379.1,178.0L379.4,178.8L379.7,179.6L380.0,180.4L380.3,181.2L380.6,182.0L380.9,182.8L381.2,183.6L381.4,184.4L381.7,185.1L381.9,185.9L382.2,186.7L382.4,187.4L382.7,188.2L382.9,189.0L383.1,189.7L383.4,190.5L383.6,191.2L383.8,191.9L384.0,192.7L384.3,193.4L384.5,194.1L384.7,194.8L384.9,195.6L385.1,196.3L385.4,197.0L385.6,197.7L385.8,198.4L386.0,199.1L386.2,199.9L386.4,200.6L386.6,201.3L386.8,202.0L387.0,202.7L387.2,203.5L387.4,204.2L387.6,204.9L387.8,205.7L388.0,206.4L388.2,207.2L388.4,207.9L388.6,208.7L388.8,209.5L389.0,210.3L389.2,211.1L389.4,211.9L389.6,212.7L389.8,213.5L390.0,214.3L390.2,215.2L390.4,216.0L390.6,216.9L390.8,217.8L391.0,218.7L391.2,219.6L391.3,220.5L391.5,221.5L391.7,222.5L391.9,223.4L392.1,224.4L392.3,225.4L392.5,226.5L392.7,227.5L392.8,228.6L393.0,229.7L393.2,230.7L393.4,231.8L393.6,232.9L393.8,233.9L394.0,234.9L394.2,235.9L394.3,236.8L394.5,237.7L394.7,238.5L394.9,239.3L395.1,239.9L395.3,240.5L395.5,241.0L395.7,241.4L395.9,241.7L396.1,241.9L396.3,242.0L396.4,241.9L396.6,241.7L396.8,241.4L397.0,241.0L397.2,240.5L397.4,239.9L397.6,239.2L397.8,238.5L398.0,237.6L398.2,236.7L398.4,235.8L398.6,234.8L398.7,233.8L398.9,232.8L399.1,231.7L399.3,230.6L399.5,229.5L399.6,228.5L399.8,227.4L400.0,226.4L400.1,225.4L400.3,224.4L400.4,223.4L400.6,222.5L400.7,221.6L400.9,220.7L401.0,219.8L401.1,219.0L401.3,218.1L401.4,217.3L401.6,216.5L401.7,215.7L401.8,214.9L402.0,214.2L402.1,213.4L402.3,212.6L402.4,211.9L402.6,211.1L402.8,210.4L402.9,209.6L403.1,208.9L403.3,208.1L403.5,207.4L403.7,206.6L403.8,205.8L404.0,205.1L404.2,204.3L404.5,203.5L404.7,202.8L404.9,202.0L405.1,201.2L405.3,200.4L405.5,199.6L405.7,198.8L405.9,198.1L406.1,197.3L406.4,196.5L406.6,195.7L406.8,194.9L407.0,194.1L407.2,193.3L407.3,192.4L407.5,191.6L407.7,190.8L407.9,190.0L408.1,189.2L408.2,188.4L408.4,187.6L408.6,186.8L408.7,185.9L408.9,185.1L409.0,184.3L409.2,183.5L409.3,182.7L409.5,181.8L409.7,181.0L409.8,180.2L410.0,179.4L410.1,178.6L410.3,177.7L410.4,176.9L410.6,176.1L410.7,175.3L410.9,174.5L411.0,173.6L411.2,172.8L411.4,172.0L411.5,171.2L411.7,170.4L411.9,169.6L412.1,168.8L412.3,168.0L412.5,167.2L412.7,166.4L412.9,165.6L413.1,164.8L413.3,164.0L413.5,163.2L413.7,162.4L413.9,161.6L414.2,160.8L414.4,160.0L414.6,159.2L414.9,158.5L415.1,157.7L415.4,156.9L415.6,156.1L415.9,155.3L416.2,154.6L416.4,153.8L416.7,153.0L417.0,152.3L417.3,151.5L417.6,150.7L417.8,150.0L418.1,149.2L418.4,148.5L418.7,147.7L419.1,146.9L419.4,146.2L419.7,145.4L420.0,144.7L420.3,143.9L420.6,143.2L421.0,142.4L421.3,141.7L421.6,140.9L422.0,140.2L422.3,139.5L422.7,138.7L423.0,138.0L423.4,137.2L423.7,136.5L424.1,135.8L424.4,135.0L424.8,134.3L425.2,133.6L425.5,132.8L425.9,132.1L426.3,131.4L426.7,130.7L427.1,129.9L427.4,129.2L427.8,128.5L428.2,127.8L428.6,127.1L429.0,126.3L429.4,125.6L429.8,124.9L430.2,124.2L430.6,123.5L431.0,122.8L431.4,122.0L431.8,121.3L432.3,120.6L432.7,119.9L433.1,119.2L433.5,118.5L433.9,117.8L434.3,117.1L434.8,116.4L435.2,115.7L435.6,115.0L436.1,114.3L436.5,113.5L436.9,112.8L437.4,112.1L437.8,111.4L438.2,110.7L438.7,110.0L439.1,109.3L439.5,108.6L440.0,107.9L440.4,107.2L440.9,106.5L441.3,105.8L441.8,105.2L442.2,104.5L442.7,103.8L443.1,103.1L443.6,102.4L444.0,101.7L444.5,101.0L444.9,100.3L445.4,99.6L445.8,98.9L446.3,98.2L446.7,97.5L447.2,96.8L447.6,96.1L448.1,95.4L448.6,94.7L449.0,94.1L449.5,93.4L449.9,92.7L450.4,92.0L450.8,91.3L451.3,90.6L451.7,89.9L452.2,89.2L452.7,88.5L453.1,87.8L453.6,87.1L454.0,86.5L454.5,85.8L454.9,85.1L455.4,84.4L455.8,83.7L456.3,83.0L456.8,82.3L457.2,81.6L457.7,80.9L458.1,80.2L458.6,79.5L459.0,78.8L459.5,78.2L459.9,77.5L460.3,76.8L460.8,76.1L461.2,75.4L461.7,74.7L462.1,74.0L462.6,73.3L463.0,72.6L463.4,71.9L463.9,71.2L464.3,70.5L464.8,69.8L465.2,69.1L465.7,68.5L466.1,67.8L466.5,67.1L467.0,66.4L467.5,65.7L467.9,65.0L468.4,64.4L468.8,63.7L469.3,63.0L469.8,62.4L470.2,61.7L470.7,61.0L471.2,60.4L471.7,59.7L472.2,59.1L472.7,58.5L473.2,57.8L473.7,57.2L474.2,56.6L474.8,55.9L475.3,55.3L475.8,54.7L476.4,54.1L476.9,53.5L477.5,52.9L478.1,52.4L478.6,51.8L479.2,51.2L479.8,50.7L480.4,50.1L481.1,49.6L481.7,49.0L482.3,48.5L483.0,48.0L483.6,47.5L484.3,46.9L484.9,46.4L485.6,46.0L486.3,45.5L487.0,45.0L487.7,44.5L488.4,44.1L489.1,43.6L489.8,43.2L490.5,42.8L491.2,42.3L492.0,41.9L492.7,41.5L493.4,41.1L494.2,40.7L494.9,40.3L495.7,40.0L496.4,39.6L497.2,39.3L497.9,38.9L498.7,38.6L499.4,38.3L500.2,37.9L501.0,37.6L501.7,37.3L502.5,37.0L503.3,36.7L504.0,36.5L504.8,36.2L505.6,35.9L506.4,35.7L507.2,35.4L507.9,35.2L508.7,35.0L509.5,34.7L510.3,34.5L511.1,34.3L511.9,34.1L512.7,33.9L513.4,33.7L514.2,33.5L515.0,33.3L515.8,33.1L516.6,32.9L517.4,32.7L518.2,32.5L519.0,32.4L519.8,32.2L520.6,32.0L521.4,31.9L522.2,31.7L523.0,31.5L523.9,31.4L524.7,31.2L525.5,31.1L526.3,30.9L527.1,30.8L527.9,30.6L528.7,30.5L529.5,30.4L530.3,30.2L531.2,30.1L532.0,29.9L532.8,29.8L533.6,29.6L534.4,29.5L535.2,29.3L536.1,29.2L536.9,29.0L537.7,28.9" stroke="#ff0000" stroke-width="4.3"/><path d="M57.00,14.42L57.8,14.4L58.6,14.3L59.3,14.3L60.1,14.3L60.9,14.2L61.7,14.2L62.5,14.2L63.3,14.2L64.1,14.2L64.9,14.2L65.7,14.2L66.5,14.1L67.3,14.1L68.1,14.2L68.9,14.2L69.7,14.2L70.5,14.2L71.3,14.2L72.1,14.2L72.9,14.3L73.7,14.3L74.5,14.3L75.3,14.4L76.2,14.4L77.0,14.4L77.8,14.5L78.6,14.5L79.4,14.6L80.2,14.7L81.0,14.7L81.9,14.8L82.7,14.9L83.5,14.9L84.3,15.0L85.1,15.1L85.9,15.2L86.8,15.3L87.6,15.4L88.4,15.5L89.2,15.6L90.0,15.7L90.8,15.8L91.6,15.9L92.5,16.0L93.3,16.2L94.1,16.3L94.9,16.4L95.7,16.6L96.5,16.7L97.3,16.9L98.1,17.0L98.9,17.2L99.7,17.3L100.6,17.5L101.4,17.7L102.2,17.9L103.0,18.0L103.8,18.2L104.6,18.4L105.4,18.6L106.2,18.8L107.0,19.0L107.7,19.2L108.5,19.4L109.3,19.6L110.1,19.9L110.9,20.1L111.7,20.3L112.5,20.5L113.2,20.8L114.0,21.0L114.8,21.3L115.6,21.5L116.3,21.8L117.1,22.1L117.9,22.3L118.6,22.6L119.4,22.9L120.2,23.2L120.9,23.5L121.7,23.8L122.4,24.1L123.2,24.4L123.9,24.7L124.6,25.0L125.4,25.3L126.1,25.6L126.8,26.0L127.6,26.3L128.3,26.7L129.0,27.0L129.7,27.4L130.5,27.7L131.2,28.1L131.9,28.4L132.6,28.8L133.3,29.2L134.0,29.6L134.7,30.0L135.4,30.4L136.0,30.8L136.7,31.2L137.4,31.6L138.1,32.0L138.7,32.4L139.4,32.9L140.1,33.3L140.7,33.7L141.4,34.2L142.0,34.6L142.6,35.1L143.3,35.6L143.9,36.0L144.5,36.5L145.2,37.0L145.8,37.5L146.4,38.0L147.0,38.5L147.6,39.0L148.2,39.5L148.8,40.0L149.4,40.5L150.0,41.1L150.5,41.6L151.1,42.2L151.7,42.7L152.2,43.3L152.8,43.8L153.3,44.4L153.9,45.0L154.4,45.5L154.9,46.1L155.4,46.7L156.0,47.3L156.5,47.9L157.0,48.5L157.5,49.1L158.0,49.8L158.5,50.4L159.0,51.0L159.4,51.7L159.9,52.3L160.4,53.0L160.8,53.6L161.3,54.3L161.7,54.9L162.2,55.6L162.6,56.3L163.1,57.0L163.5,57.6L163.9,58.3L164.3,59.0L164.8,59.7L165.2,60.4L165.6,61.1L166.0,61.8L166.4,62.5L166.8,63.3L167.2,64.0L167.6,64.7L167.9,65.4L168.3,66.2L168.7,66.9L169.1,67.6L169.4,68.4L169.8,69.1L170.2,69.9L170.5,70.6L170.9,71.4L171.2,72.1L171.6,72.9L171.9,73.6L172.2,74.4L172.6,75.2L172.9,75.9L173.2,76.7L173.5,77.5L173.9,78.2L174.2,79.0L174.5,79.8L174.8,80.5L175.1,81.3L175.4,82.1L175.7,82.9L176.0,83.7L176.3,84.4L176.6,85.2L176.9,86.0L177.2,86.8L177.5,87.6L177.8,88.4L178.1,89.2L178.4,89.9L178.6,90.7L178.9,91.5L179.2,92.3L179.5,93.1L179.8,93.9L180.0,94.7L180.3,95.4L180.6,96.2L180.8,97.0L181.1,97.8L181.4,98.6L181.6,99.4L181.9,100.1L182.2,100.9L182.4,101.7L182.7,102.5L182.9,103.2L183.2,104.0L183.4,104.8L183.7,105.6L183.9,106.3L184.2,107.1L184.5,107.9L184.7,108.6L185.0,109.4L185.2,110.1L185.5,110.9L185.7,111.6L186.0,112.4L186.2,113.1L186.5,113.9L186.7,114.6L187.0,115.4L187.2,116.1L187.5,116.8L187.7,117.6L188.0,118.3L188.2,119.0L188.5,119.7L188.7,120.5L189.0,121.2L189.3,121.9L189.5,122.6L189.8,123.3L190.0,124.0L190.3,124.8L190.6,125.5L190.9,126.2L191.2,126.9L191.4,127.6L191.7,128.3L192.0,129.1L192.3,129.8L192.7,130.5L193.0,131.2L193.3,132.0L193.6,132.7L194.0,133.4L194.3,134.2L194.7,134.9L195.0,135.7L195.4,136.4L195.8,137.2L196.2,137.9L196.6,138.7L197.0,139.5L197.4,140.2L197.8,141.0L198.2,141.8L198.7,142.6L199.2,143.4L199.6,144.1L200.1,144.8L200.6,145.5L201.1,146.0L201.6,146.5L202.2,146.9L202.7,147.2L203.3,147.3L203.9,147.3L204.5,147.1L205.1,146.8L205.7,146.4L206.3,145.8L206.9,145.2L207.4,144.6L208.0,143.8L208.6,143.1L209.1,142.3L209.6,141.5L210.1,140.7L210.6,140.0L211.0,139.2L211.4,138.5L211.8,137.7L212.2,137.0L212.6,136.3L213.0,135.6L213.4,134.9L213.7,134.2L214.1,133.5L214.5,132.8L214.8,132.1L215.2,131.5L215.6,130.8L216.0,130.1L216.5,129.5L216.9,128.9L217.3,128.2L217.8,127.6L218.3,127.0L218.7,126.4L219.2,125.8L219.7,125.1L220.2,124.5L220.7,123.9L221.2,123.3L221.7,122.7L222.3,122.1L222.8,121.6L223.4,121.0L223.9,120.4L224.5,119.8L225.0,119.2L225.6,118.6L226.2,118.0L226.7,117.4L227.3,116.8L227.9,116.3L228.5,115.7L229.1,115.1L229.7,114.5L230.2,113.9L230.8,113.3L231.4,112.7L232.0,112.1L232.6,111.5L233.2,110.9L233.9,110.4L234.5,109.8L235.1,109.2L235.7,108.7L236.3,108.1L237.0,107.6L237.6,107.1L238.3,106.6L238.9,106.1L239.6,105.7L240.2,105.2L240.9,104.8L241.6,104.4L242.2,104.0L242.9,103.7L243.6,103.4L244.3,103.1L245.0,102.8L245.7,102.5L246.4,102.3L247.2,102.1L247.9,101.9L248.6,101.8L249.4,101.7L250.1,101.5L250.9,101.4L251.6,101.4L252.4,101.3L253.2,101.2L253.9,101.2L254.7,101.1L255.5,101.1L256.3,101.1L257.1,101.1L257.9,101.0L258.7,101.0L259.5,101.0L260.3,101.0L261.1,101.0L261.9,101.0L262.7,100.9L263.5,100.9L264.3,100.9L265.1,100.9L265.9,100.8L266.8,100.8L267.6,100.7L268.4,100.7L269.2,100.7L270.1,100.6L270.9,100.6L271.7,100.5L272.6,100.5L273.4,100.4L274.2,100.4L275.0,100.3L275.9,100.3L276.7,100.2L277.5,100.2L278.4,100.2L279.2,100.1L280.0,100.1L280.9,100.1L281.7,100.0L282.5,100.0L283.3,100.0L284.2,100.0L285.0,100.0L285.8,100.0L286.6,100.0L287.5,100.0L288.3,100.0L289.1,100.0L289.9,100.0L290.7,100.1L291.5,100.1L292.3,100.2L293.1,100.2L293.9,100.3L294.7,100.4L295.5,100.5L296.3,100.6L297.1,100.7L297.9,100.8L298.7,100.9L299.5,101.0L300.2,101.2L301.0,101.3L301.8,101.5L302.5,101.7L303.3,101.9L304.0,102.1L304.8,102.3L305.5,102.6L306.3,102.8L307.0,103.1L307.7,103.4L308.4,103.7L309.1,104.0L309.9,104.3L310.6,104.6L311.3,105.0L311.9,105.4L312.6,105.7L313.3,106.1L314.0,106.5L314.6,107.0L315.3,107.4L316.0,107.8L316.6,108.3L317.3,108.8L317.9,109.3L318.5,109.7L319.2,110.3L319.8,110.8L320.4,111.3L321.0,111.8L321.6,112.4L322.2,112.9L322.8,113.5L323.4,114.1L323.9,114.7L324.5,115.3L325.1,115.9L325.6,116.5L326.2,117.1L326.7,117.8L327.2,118.4L327.8,119.0L328.3,119.7L328.8,120.4L329.3,121.0L329.8,121.7L330.3,122.4L330.8,123.1L331.3,123.8L331.8,124.5L332.2,125.2L332.7,125.9L333.1,126.6L333.6,127.3L334.0,128.0L334.5,128.8L334.9,129.5L335.3,130.2L335.7,131.0L336.1,131.7L336.5,132.5L336.9,133.2L337.3,134.0L337.7,134.7L338.0,135.5L338.4,136.3L338.7,137.0L339.1,137.8L339.4,138.6L339.7,139.3L340.1,140.1L340.4,140.9L340.7,141.6L341.0,142.4L341.3,143.2L341.6,143.9L341.8,144.7L342.1,145.5L342.3,146.2L342.6,147.0L342.8,147.8L343.1,148.5L343.3,149.3L343.5,150.0L343.7,150.8L344.0,151.6L344.2,152.3L344.4,153.1L344.6,153.8L344.8,154.6L344.9,155.4L345.1,156.1L345.3,156.9L345.5,157.6L345.6,158.4L345.8,159.2L346.0,159.9L346.1,160.7L346.3,161.4L346.4,162.2L346.6,163.0L346.7,163.7L346.9,164.5L347.0,165.3L347.2,166.0L347.3,166.8L347.5,167.6L347.6,168.3L347.8,169.1L347.9,169.9L348.1,170.6L348.2,171.4L348.4,172.2L348.5,173.0L348.7,173.7L348.8,174.5L349.0,175.3L349.1,176.1L349.3,176.9L349.5,177.7L349.6,178.5L349.8,179.3L350.0,180.1L350.2,180.9L350.3,181.7L350.5,182.5L350.7,183.3L350.9,184.1L351.1,184.9L351.3,185.7L351.5,186.5L351.7,187.3L352.0,188.1L352.2,189.0L352.4,189.8L352.6,190.6L352.9,191.4L353.1,192.2L353.3,193.0L353.5,193.8L353.7,194.6L353.9,195.4L354.2,196.2L354.3,197.0L354.5,197.7L354.7,198.5L354.9,199.2L355.0,199.9L355.2,200.6L355.3,201.4L355.4,202.1L355.6,202.8L355.7,203.5L355.8,204.2L355.9,205.0L356.0,205.7L356.1,206.4L356.2,207.2L356.3,208.0L356.4,208.8L356.5,209.6L356.5,210.5L356.6,211.3L356.7,212.2L356.8,213.1L356.9,214.1L357.0,215.1L357.1,216.1L357.2,217.2L357.3,218.3L357.4,219.4L357.5,220.6L357.6,221.7L357.8,222.8L357.9,223.8L358.0,224.9L358.2,225.8L358.4,226.7L358.5,227.5L358.7,228.1L358.9,228.7L359.2,229.1L359.4,229.4L359.6,229.5L359.9,229.5L360.2,229.3L360.5,228.9L360.8,228.3L361.1,227.7L361.3,227.0L361.6,226.2L361.9,225.3L362.1,224.4L362.3,223.5L362.5,222.6L362.7,221.7L362.8,220.8L363.0,219.8L363.1,218.9L363.3,218.0L363.4,217.0L363.5,216.1L363.7,215.2L363.8,214.3L363.9,213.5L364.1,212.6L364.2,211.8L364.4,210.9L364.5,210.1L364.7,209.3L364.8,208.5L365.0,207.7L365.2,206.9L365.3,206.2L365.5,205.4L365.7,204.6L365.9,203.9L366.0,203.2L366.2,202.4L366.4,201.7L366.6,200.9L366.8,200.2L367.0,199.5L367.2,198.8L367.4,198.1L367.6,197.3L367.8,196.6L368.0,195.9L368.2,195.2L368.5,194.4L368.7,193.7L368.9,193.0L369.2,192.2L369.4,191.5L369.6,190.7L369.9,190.0L370.1,189.2L370.4,188.4L370.6,187.6L370.9,186.8L371.2,186.0L371.4,185.2L371.7,184.4L372.0,183.6L372.3,182.8L372.6,182.0L372.9,181.2L373.3,180.4L373.6,179.7L374.0,178.9L374.4,178.1L374.8,177.4L375.2,176.7L375.7,176.0L376.2,175.4L376.7,174.7L377.2,174.2L377.7,173.6L378.3,173.1L378.9,172.6L379.6,172.1L380.3,171.7L381.0,171.3L381.7,171.0L382.5,170.7L383.3,170.5L384.1,170.3L384.9,170.0L385.8,169.8L386.6,169.6L387.4,169.4L388.2,169.1L389.0,168.8L389.7,168.5L390.5,168.2L391.2,167.8L391.8,167.4L392.5,167.0L393.1,166.5L393.8,166.0L394.4,165.5L394.9,165.0L395.5,164.5L396.1,163.9L396.6,163.3L397.1,162.7L397.6,162.1L398.1,161.5L398.6,160.9L399.0,160.2L399.5,159.6L399.9,158.9L400.4,158.2L400.8,157.5L401.2,156.9L401.6,156.2L402.1,155.5L402.5,154.8L402.8,154.1L403.2,153.4L403.6,152.7L404.0,152.0L404.4,151.3L404.7,150.6L405.1,149.9L405.4,149.2L405.8,148.4L406.1,147.7L406.5,147.0L406.8,146.3L407.1,145.5L407.4,144.8L407.8,144.1L408.1,143.3L408.4,142.6L408.7,141.9L409.0,141.1L409.3,140.4L409.6,139.6L409.9,138.9L410.2,138.1L410.5,137.4L410.8,136.6L411.1,135.9L411.4,135.1L411.7,134.4L412.0,133.6L412.3,132.9L412.5,132.1L412.8,131.4L413.1,130.6L413.4,129.9L413.7,129.1L414.0,128.3L414.3,127.6L414.5,126.8L414.8,126.1L415.1,125.3L415.4,124.6L415.7,123.8L416.0,123.0L416.3,122.3L416.6,121.5L416.9,120.8L417.2,120.0L417.5,119.3L417.8,118.5L418.1,117.8L418.4,117.0L418.7,116.3L419.0,115.5L419.4,114.8L419.7,114.1L420.0,113.3L420.3,112.6L420.7,111.8L421.0,111.1L421.3,110.4L421.7,109.6L422.0,108.9L422.3,108.1L422.7,107.4L423.0,106.7L423.4,105.9L423.7,105.2L424.1,104.5L424.4,103.8L424.8,103.0L425.2,102.3L425.5,101.6L425.9,100.9L426.2,100.1L426.6,99.4L427.0,98.7L427.4,98.0L427.7,97.3L428.1,96.6L428.5,95.8L428.9,95.1L429.3,94.4L429.7,93.7L430.1,93.0L430.5,92.3L430.9,91.6L431.3,90.9L431.7,90.2L432.1,89.5L432.5,88.8L432.9,88.1L433.3,87.4L433.7,86.7L434.1,86.0L434.5,85.3L435.0,84.6L435.4,83.9L435.8,83.3L436.2,82.6L436.7,81.9L437.1,81.2L437.5,80.5L438.0,79.8L438.4,79.2L438.9,78.5L439.3,77.8L439.8,77.1L440.2,76.5L440.7,75.8L441.1,75.1L441.6,74.5L442.0,73.8L442.5,73.1L443.0,72.5L443.4,71.8L443.9,71.2L444.4,70.5L444.9,69.9L445.3,69.2L445.8,68.6L446.3,67.9L446.8,67.3L447.3,66.6L447.8,66.0L448.3,65.3L448.8,64.7L449.3,64.1L449.8,63.4L450.3,62.8L450.8,62.2L451.3,61.5L451.8,60.9L452.3,60.3L452.8,59.6L453.3,59.0L453.8,58.4L454.4,57.8L454.9,57.2L455.4,56.6L455.9,55.9L456.5,55.3L457.0,54.7L457.5,54.1L458.1,53.5L458.6,52.9L459.2,52.3L459.7,51.7L460.3,51.1L460.8,50.5L461.4,49.9L461.9,49.3L462.5,48.8L463.0,48.2L463.6,47.6L464.2,47.0L464.7,46.4L465.3,45.9L465.9,45.3L466.5,44.7L467.0,44.2L467.6,43.6L468.2,43.0L468.8,42.5L469.4,41.9L470.0,41.4L470.6,40.8L471.2,40.3L471.8,39.8L472.4,39.2L473.0,38.7L473.6,38.2L474.2,37.7L474.9,37.2L475.5,36.7L476.1,36.2L476.7,35.7L477.4,35.2L478.0,34.8L478.7,34.3L479.3,33.8L480.0,33.4L480.6,32.9L481.3,32.5L482.0,32.1L482.7,31.7L483.3,31.3L484.0,30.9L484.7,30.5L485.4,30.1L486.1,29.7L486.8,29.4L487.5,29.0L488.2,28.7L489.0,28.3L489.7,28.0L490.4,27.7L491.2,27.4L491.9,27.1L492.7,26.8L493.4,26.6L494.2,26.3L494.9,26.0L495.7,25.8L496.5,25.6L497.3,25.4L498.1,25.2L498.8,25.0L499.6,24.8L500.4,24.6L501.2,24.4L502.0,24.2L502.8,24.1L503.7,23.9L504.5,23.8L505.3,23.7L506.1,23.5L506.9,23.4L507.7,23.3L508.6,23.2L509.4,23.1L510.2,23.0L511.1,22.9L511.9,22.8L512.7,22.7L513.5,22.6L514.4,22.6L515.2,22.5L516.0,22.4L516.9,22.3L517.7,22.3L518.5,22.2L519.4,22.2L520.2,22.1L521.0,22.1L521.8,22.0L522.7,22.0L523.5,21.9L524.3,21.9L525.1,21.8L525.9,21.8L526.7,21.7L527.5,21.7L528.3,21.6L529.2,21.6L530.0,21.6L530.7,21.5L531.5,21.5L532.3,21.4L533.1,21.4L533.9,21.3L534.7,21.2L535.4,21.2L536.2,21.1L536.9,21.1L537.7,21.0" stroke="#0072bd" stroke-width="4.3" stroke-dasharray="15.6 3.7 8.3 3.3"/><path d="M130.00,201.00L130.8,200.7L131.6,200.4L132.4,200.1L133.2,199.9L134.0,199.6L134.8,199.3L135.6,199.1L136.4,198.8L137.2,198.5L138.1,198.3L138.9,198.0L139.7,197.8L140.6,197.6L141.4,197.3L142.2,197.1L143.1,196.8L143.9,196.6L144.7,196.4L145.6,196.1L146.4,195.9L147.3,195.7L148.1,195.4L148.9,195.2L149.8,194.9L150.6,194.7L151.5,194.5L152.3,194.2L153.1,194.0L154.0,193.7L154.8,193.5L155.7,193.2L156.5,192.9L157.3,192.7L158.1,192.4L159.0,192.1L159.8,191.8L160.6,191.5L161.4,191.2L162.2,190.9L163.0,190.6L163.8,190.3L164.6,190.0L165.4,189.7L166.2,189.3L167.0,189.0L167.8,188.6L168.5,188.3L169.3,187.9L170.1,187.5L170.8,187.1L171.6,186.7L172.3,186.3L173.0,185.8L173.8,185.4L174.5,185.0L175.2,184.5L175.9,184.0L176.6,183.6L177.3,183.1L178.0,182.6L178.7,182.1L179.4,181.6L180.1,181.1L180.8,180.6L181.4,180.0L182.1,179.5L182.8,179.0L183.5,178.4L184.1,177.9L184.8,177.3L185.4,176.8L186.1,176.2L186.8,175.7L187.4,175.1L188.1,174.5L188.7,174.0L189.4,173.4L190.1,172.8L190.7,172.3L191.4,171.7L192.0,171.1L192.7,170.6L193.3,170.0L194.0,169.4L194.7,168.9L195.3,168.3L196.0,167.7L196.7,167.2L197.3,166.6L198.0,166.1L198.7,165.5L199.4,165.0L200.0,164.5L200.7,164.0L201.4,163.4L202.1,162.9L202.8,162.4L203.5,161.9L204.2,161.5L204.9,161.0L205.7,160.5L206.4,160.1L207.1,159.7L207.8,159.2L208.6,158.8L209.3,158.4L210.1,158.0L210.8,157.7L211.6,157.3L212.4,156.9L213.1,156.6L213.9,156.2L214.7,155.8L215.4,155.5L216.2,155.1L217.0,154.8L217.7,154.4L218.5,154.1L219.3,153.7L220.1,153.4L220.8,153.0L221.6,152.7L222.4,152.3L223.1,151.9L223.9,151.5L224.6,151.1L225.4,150.7L226.1,150.3L226.8,149.9L227.6,149.4L228.3,149.0L229.0,148.5L229.7,148.0L230.4,147.6L231.1,147.1L231.8,146.5L232.5,146.0L233.2,145.5L233.9,144.9L234.6,144.4L235.2,143.8L235.9,143.3L236.6,142.7L237.2,142.1L237.9,141.5L238.6,141.0L239.2,140.4L239.9,139.8L240.5,139.2L241.2,138.6L241.8,137.9L242.5,137.3L243.1,136.7L243.7,136.1L244.4,135.5L245.0,134.9L245.7,134.2L246.3,133.6L247.0,133.0L247.6,132.4L248.2,131.8L248.9,131.1L249.5,130.5L250.2,129.9L250.8,129.3L251.4,128.7L252.1,128.1L252.7,127.5L253.4,126.9L254.0,126.3L254.7,125.7L255.3,125.2L256.0,124.6L256.7,124.0L257.3,123.5L258.0,122.9L258.7,122.4L259.3,121.9L260.0,121.4L260.7,120.8L261.4,120.4L262.1,119.9L262.8,119.4L263.5,118.9L264.2,118.5L264.9,118.0L265.6,117.6L266.4,117.2L267.1,116.8L267.8,116.4L268.6,116.1L269.3,115.7L270.0,115.3L270.8,115.0L271.6,114.7L272.3,114.4L273.1,114.0L273.9,113.8L274.6,113.5L275.4,113.2L276.2,112.9L277.0,112.7L277.8,112.4L278.6,112.2L279.4,111.9L280.2,111.7L281.0,111.5L281.8,111.3L282.6,111.1L283.4,110.9L284.2,110.7L285.1,110.5L285.9,110.4L286.7,110.2L287.5,110.1L288.4,109.9L289.2,109.8L290.1,109.6L290.9,109.5L291.7,109.4L292.6,109.2L293.4,109.1L294.3,109.0L295.1,108.9L296.0,108.8L296.9,108.7L297.7,108.6L298.6,108.5L299.4,108.4L300.3,108.3L301.2,108.3L302.0,108.2L302.9,108.1L303.8,108.0L304.6,107.9L305.5,107.9L306.4,107.8L307.3,107.7L308.1,107.7L309.0,107.6L309.9,107.5L310.8,107.5L311.6,107.4L312.5,107.4L313.4,107.3L314.3,107.2L315.1,107.2L316.0,107.1L316.9,107.0L317.8,107.0L318.6,106.9L319.5,106.8L320.4,106.7L321.3,106.7L322.1,106.6L323.0,106.5L323.9,106.4L324.7,106.3L325.6,106.3L326.5,106.2L327.4,106.1L328.2,106.0L329.1,105.9L330.0,105.8L330.8,105.7L331.7,105.6L332.5,105.5L333.4,105.4L334.3,105.3L335.1,105.2L336.0,105.1L336.9,104.9L337.7,104.8L338.6,104.7L339.4,104.6L340.3,104.5L341.2,104.4L342.0,104.3L342.9,104.1L343.7,104.0L344.6,103.9L345.4,103.8L346.3,103.7L347.1,103.6L348.0,103.4L348.9,103.3L349.7,103.2L350.6,103.1L351.4,103.0L352.3,102.9L353.1,102.7L354.0,102.6L354.8,102.5L355.7,102.4L356.5,102.3L357.4,102.2L358.2,102.1L359.1,102.0L359.9,101.9L360.8,101.8L361.6,101.7L362.5,101.6L363.3,101.5L364.2,101.4L365.0,101.3L365.9,101.2L366.7,101.1L367.6,101.0L368.4,100.9L369.3,100.8L370.1,100.8L371.0,100.7L371.8,100.6L372.7,100.5L373.5,100.5L374.4,100.4L375.2,100.3L376.1,100.3L376.9,100.2L377.8,100.2L378.6,100.1L379.5,100.1L380.3,100.0L381.2,100.0L382.0,100.0L382.9,99.9L383.7,99.9L384.6,99.9L385.4,99.9L386.3,99.9L387.1,99.9L388.0,99.9L388.8,99.9L389.7,99.9L390.5,99.9L391.4,99.9L392.2,99.9L393.1,100.0L394.0,100.0L394.8,100.0L395.7,100.1L396.5,100.1L397.4,100.2L398.2,100.2L399.1,100.3L400.0,100.4L400.8,100.5L401.7,100.5L402.5,100.6L403.4,100.7L404.2,100.8L405.1,101.0L406.0,101.1L406.8,101.2L407.7,101.3L408.5,101.5L409.4,101.6L410.3,101.7L411.1,101.9L412.0,102.1L412.8,102.2L413.7,102.4L414.6,102.6L415.4,102.8L416.3,102.9L417.1,103.1L418.0,103.3L418.8,103.5L419.7,103.8L420.5,104.0L421.4,104.2L422.2,104.4L423.1,104.7L423.9,104.9L424.7,105.2L425.6,105.4L426.4,105.7L427.3,105.9L428.1,106.2L428.9,106.5L429.8,106.8L430.6,107.1L431.4,107.3L432.3,107.6L433.1,108.0L433.9,108.3L434.7,108.6L435.5,108.9L436.3,109.2L437.2,109.6L438.0,109.9L438.8,110.3L439.6,110.6L440.4,111.0L441.2,111.3L442.0,111.7L442.7,112.1L443.5,112.4L444.3,112.8L445.1,113.2L445.9,113.6L446.6,114.0L447.4,114.4L448.2,114.8L448.9,115.2L449.7,115.7L450.5,116.1L451.2,116.5L451.9,117.0L452.7,117.4L453.4,117.9L454.2,118.3L454.9,118.8L455.6,119.2L456.3,119.7L457.1,120.2L457.8,120.7L458.5,121.1L459.2,121.6L459.9,122.1L460.6,122.6L461.2,123.1L461.9,123.7L462.6,124.2L463.3,124.7L463.9,125.2L464.6,125.8L465.3,126.3L465.9,126.8L466.5,127.4L467.2,127.9L467.8,128.5L468.4,129.1L469.1,129.6L469.7,130.2L470.3,130.8L470.9,131.4L471.5,132.0L472.1,132.5L472.7,133.1L473.3,133.7L473.9,134.4L474.5,135.0L475.0,135.6L475.6,136.2L476.2,136.8L476.7,137.4L477.3,138.1L477.8,138.7L478.4,139.3L478.9,140.0L479.5,140.6L480.0,141.3L480.5,141.9L481.1,142.6L481.6,143.3L482.1,143.9L482.6,144.6L483.2,145.3L483.7,145.9L484.2,146.6L484.7,147.3L485.2,148.0L485.7,148.7L486.2,149.4L486.6,150.1L487.1,150.8L487.6,151.5L488.1,152.2L488.6,152.9L489.0,153.6L489.5,154.3L490.0,155.0L490.4,155.7L490.9,156.5L491.4,157.2L491.8,157.9L492.3,158.6L492.7,159.4L493.2,160.1L493.6,160.8L494.1,161.6L494.5,162.3L494.9,163.1L495.4,163.8L495.8,164.5L496.2,165.3L496.7,166.0L497.1,166.8L497.5,167.6L497.9,168.3L498.4,169.1L498.8,169.8L499.2,170.6L499.6,171.4L500.0,172.1L500.4,172.9L500.9,173.7L501.3,174.4L501.7,175.2L502.1,176.0L502.5,176.7L502.9,177.5L503.3,178.3L503.7,179.1L504.1,179.8L504.5,180.6L504.9,181.4L505.3,182.2L505.7,183.0L506.1,183.7L506.5,184.5L506.9,185.3L507.3,186.1L507.6,186.9L508.0,187.7L508.4,188.4L508.8,189.2L509.2,190.0L509.6,190.8L510.0,191.6L510.4,192.4L510.8,193.2L511.2,193.9L511.5,194.7L511.9,195.5L512.3,196.3L512.7,197.1L513.1,197.9L513.5,198.7L513.9,199.4L514.3,200.2L514.7,201.0L515.0,201.8L515.4,202.6L515.8,203.4L516.2,204.1L516.6,204.9L517.0,205.7L517.4,206.5L517.8,207.3L518.2,208.0L518.6,208.8L519.0,209.6L519.4,210.4L519.8,211.2L520.2,211.9L520.6,212.7L521.0,213.5L521.4,214.2L521.8,215.0L522.2,215.8L522.6,216.5L523.0,217.3L523.4,218.1L523.8,218.8L524.2,219.6L524.7,220.3L525.1,221.1L525.5,221.8L525.9,222.6L526.3,223.3L526.8,224.1L527.2,224.8L527.6,225.6L528.1,226.3L528.5,227.1L528.9,227.8L529.4,228.5L529.8,229.3L530.2,230.0L530.7,230.7L531.1,231.4L531.6,232.2L532.0,232.9L532.5,233.6L533.0,234.3L533.4,235.0L533.9,235.7L534.3,236.4L534.8,237.1L535.3,237.8L535.8,238.5L536.2,239.2L536.7,239.9L537.2,240.6L537.7,241.3" stroke="#ff8fc8" stroke-width="4.3" stroke-dasharray="15.6 3.7 8.3 3.3"/><path d="M57.01,14.50L57.7,14.5L58.5,14.5L59.2,14.5L60.0,14.5L60.7,14.5L61.5,14.5L62.2,14.5L63.0,14.5L63.8,14.5L64.5,14.5L65.3,14.5L66.0,14.5L66.8,14.5L67.6,14.5L68.3,14.5L69.1,14.6L69.9,14.6L70.6,14.6L71.4,14.6L72.2,14.7L73.0,14.7L73.7,14.7L74.5,14.7L75.3,14.8L76.1,14.8L76.8,14.9L77.6,14.9L78.4,14.9L79.2,15.0L79.9,15.0L80.7,15.1L81.5,15.1L82.3,15.2L83.1,15.3L83.8,15.3L84.6,15.4L85.4,15.5L86.2,15.5L87.0,15.6L87.8,15.7L88.5,15.8L89.3,15.8L90.1,15.9L90.9,16.0L91.7,16.1L92.4,16.2L93.2,16.3L94.0,16.4L94.8,16.5L95.6,16.6L96.3,16.8L97.1,16.9L97.9,17.0L98.7,17.1L99.4,17.2L100.2,17.4L101.0,17.5L101.8,17.6L102.5,17.8L103.3,17.9L104.1,18.1L104.8,18.2L105.6,18.4L106.4,18.6L107.1,18.7L107.9,18.9L108.6,19.1L109.4,19.3L110.2,19.4L110.9,19.6L111.7,19.8L112.4,20.0L113.2,20.2L113.9,20.4L114.7,20.6L115.4,20.9L116.1,21.1L116.9,21.3L117.6,21.5L118.4,21.8L119.1,22.0L119.8,22.2L120.5,22.5L121.3,22.8L122.0,23.0L122.7,23.3L123.4,23.5L124.1,23.8L124.9,24.1L125.6,24.4L126.3,24.7L127.0,25.0L127.7,25.3L128.4,25.6L129.1,25.9L129.8,26.2L130.4,26.5L131.1,26.8L131.8,27.2L132.5,27.5L133.2,27.9L133.8,28.2L134.5,28.6L135.2,28.9L135.8,29.3L136.5,29.7L137.1,30.0L137.8,30.4L138.4,30.8L139.1,31.2L139.7,31.6L140.4,32.0L141.0,32.4L141.6,32.9L142.2,33.3L142.8,33.7L143.5,34.2L144.1,34.6L144.7,35.1L145.3,35.5L145.9,36.0L146.5,36.5L147.0,36.9L147.6,37.4L148.2,37.9L148.8,38.4L149.3,38.9L149.9,39.4L150.5,40.0L151.0,40.5L151.6,41.0L152.1,41.6L152.6,42.1L153.2,42.7L153.7,43.2L154.2,43.8L154.7,44.4L155.2,45.0L155.7,45.5L156.2,46.1L156.7,46.8L157.2,47.4L157.7,48.0L158.2,48.6L158.6,49.2L159.1,49.9L159.6,50.5L160.0,51.2L160.5,51.8L160.9,52.5L161.4,53.1L161.8,53.8L162.2,54.5L162.7,55.1L163.1,55.8L163.5,56.5L163.9,57.2L164.3,57.9L164.8,58.6L165.2,59.3L165.6,60.0L165.9,60.7L166.3,61.4L166.7,62.1L167.1,62.8L167.5,63.5L167.9,64.2L168.2,64.9L168.6,65.6L168.9,66.3L169.3,67.0L169.7,67.7L170.0,68.5L170.4,69.2L170.7,69.9L171.0,70.6L171.4,71.3L171.7,72.0L172.0,72.7L172.4,73.5L172.7,74.2L173.0,74.9L173.3,75.6L173.6,76.3L173.9,77.0L174.3,77.7L174.6,78.4L174.9,79.1L175.2,79.8L175.5,80.5L175.8,81.1L176.0,81.8L176.3,82.5L176.6,83.2L176.9,83.9L177.2,84.5L177.5,85.2L177.7,85.9L178.0,86.6L178.3,87.2L178.6,87.9L178.8,88.6L179.1,89.2L179.4,89.9L179.6,90.6L179.9,91.3L180.1,91.9L180.4,92.6L180.7,93.3L180.9,94.0L181.2,94.6L181.4,95.3L181.7,96.0L181.9,96.7L182.2,97.4L182.4,98.1L182.7,98.8L182.9,99.5L183.2,100.2L183.4,100.9L183.7,101.6L183.9,102.3L184.1,103.0L184.4,103.7L184.6,104.5L184.9,105.2L185.1,105.9L185.4,106.7L185.6,107.4L185.8,108.2L186.1,109.0L186.3,109.7L186.6,110.5L186.8,111.3L187.1,112.1L187.3,112.9L187.5,113.7L187.8,114.5L188.0,115.4L188.3,116.2L188.5,117.1L188.8,117.9L189.0,118.8L189.3,119.6L189.5,120.5L189.8,121.3L190.1,122.2L190.4,123.0L190.7,123.8L191.0,124.6L191.3,125.4L191.6,126.2L192.0,127.0L192.3,127.7L192.7,128.4L193.1,129.1L193.5,129.8L193.9,130.4L194.4,131.0L194.8,131.5L195.3,132.1L195.9,132.5L196.4,133.0L197.0,133.3L197.6,133.7L198.2,133.9L198.8,134.1L199.5,134.3L200.1,134.3L200.8,134.3L201.4,134.2L202.1,134.0L202.8,133.7L203.4,133.4L204.1,133.1L204.8,132.6L205.4,132.2L206.0,131.7L206.6,131.2L207.2,130.6L207.8,130.1L208.4,129.5L208.9,128.9L209.5,128.3L210.0,127.7L210.5,127.0L211.1,126.4L211.6,125.8L212.1,125.1L212.6,124.5L213.1,123.8L213.6,123.2L214.1,122.5L214.6,121.9L215.1,121.3L215.6,120.7L216.2,120.1L216.7,119.5L217.2,118.9L217.8,118.4L218.4,117.8L219.0,117.3L219.6,116.9L220.2,116.4L220.8,116.0L221.5,115.6L222.1,115.3L222.8,114.9L223.5,114.6L224.2,114.2L224.9,113.9L225.6,113.6L226.3,113.3L227.0,113.0L227.7,112.7L228.4,112.4L229.1,112.1L229.8,111.8L230.5,111.5L231.2,111.1L231.9,110.8L232.5,110.5L233.2,110.1L233.9,109.8L234.6,109.4L235.3,109.1L235.9,108.7L236.6,108.4L237.3,108.0L238.0,107.7L238.7,107.3L239.3,107.0L240.0,106.7L240.7,106.3L241.4,106.0L242.1,105.7L242.8,105.4L243.5,105.1L244.3,104.8L245.0,104.6L245.7,104.3L246.5,104.1L247.2,103.8L247.9,103.6L248.7,103.4L249.4,103.2L250.2,103.0L251.0,102.9L251.7,102.7L252.5,102.6L253.3,102.4L254.1,102.3L254.8,102.2L255.6,102.1L256.4,102.0L257.2,102.0L258.0,101.9L258.7,101.9L259.5,101.9L260.3,101.9L261.1,101.9L261.9,101.9L262.6,101.9L263.4,102.0L264.2,102.0L265.0,102.1L265.7,102.2L266.5,102.3L267.3,102.4L268.0,102.6L268.8,102.7L269.5,102.9L270.3,103.0L271.0,103.2L271.7,103.5L272.5,103.7L273.2,103.9L273.9,104.2L274.6,104.4L275.3,104.7L276.0,105.0L276.7,105.3L277.4,105.7L278.0,106.0L278.7,106.4L279.4,106.8L280.0,107.1L280.6,107.6L281.3,108.0L281.9,108.4L282.5,108.9L283.1,109.4L283.6,109.9L284.2,110.4L284.7,110.9L285.3,111.4L285.8,112.0L286.3,112.6L286.8,113.1L287.3,113.7L287.8,114.3L288.3,115.0L288.8,115.6L289.2,116.2L289.7,116.9L290.1,117.5L290.6,118.2L291.0,118.9L291.4,119.6L291.8,120.2L292.2,120.9L292.6,121.6L293.0,122.3L293.4,123.0L293.8,123.7L294.2,124.4L294.6,125.1L294.9,125.8L295.3,126.5L295.7,127.3L296.0,128.0L296.4,128.6L296.8,129.3L297.1,130.0L297.5,130.7L297.8,131.4L298.2,132.1L298.6,132.7L298.9,133.4L299.3,134.0L299.6,134.7L300.0,135.3L300.4,136.0L300.7,136.6L301.1,137.2L301.5,137.8L301.9,138.5L302.3,139.1L302.7,139.7L303.1,140.3L303.5,141.0L303.9,141.6L304.3,142.3L304.8,142.9L305.2,143.6L305.7,144.2L306.2,144.9L306.7,145.5L307.2,146.2L307.7,146.9L308.2,147.5L308.8,148.2L309.3,148.8L309.9,149.4L310.4,150.0L311.0,150.6L311.6,151.1L312.2,151.6L312.8,152.1L313.4,152.6L314.0,153.0L314.6,153.3L315.3,153.7L315.9,153.9L316.6,154.2L317.2,154.3L317.9,154.5L318.6,154.5L319.2,154.5L319.9,154.5L320.6,154.4L321.3,154.2L322.0,154.0L322.7,153.8L323.4,153.5L324.0,153.1L324.7,152.8L325.4,152.4L326.1,151.9L326.7,151.5L327.4,151.0L328.0,150.4L328.7,149.9L329.3,149.3L329.9,148.8L330.5,148.2L331.1,147.6L331.6,147.0L332.2,146.4L332.7,145.7L333.2,145.1L333.8,144.5L334.3,143.8L334.8,143.2L335.3,142.5L335.8,141.9L336.3,141.3L336.8,140.6L337.3,140.0L337.8,139.4L338.3,138.7L338.7,138.1L339.3,137.5L339.8,136.9L340.3,136.3L340.8,135.8L341.3,135.2L341.9,134.7L342.4,134.2L343.0,133.7L343.5,133.2L344.1,132.8L344.7,132.4L345.4,132.0L346.0,131.6L346.6,131.2L347.3,130.9L348.0,130.6L348.7,130.4L349.5,130.2L350.2,130.0L351.0,129.8L351.8,129.7L352.5,129.5L353.3,129.5L354.1,129.4L354.9,129.4L355.7,129.4L356.5,129.4L357.3,129.5L358.2,129.6L359.0,129.7L359.7,129.9L360.5,130.0L361.3,130.2L362.1,130.4L362.8,130.7L363.6,131.0L364.3,131.3L365.0,131.6L365.7,132.0L366.4,132.3L367.0,132.7L367.7,133.2L368.3,133.6L368.9,134.1L369.4,134.6L370.0,135.1L370.5,135.6L371.0,136.2L371.5,136.7L372.0,137.3L372.5,137.9L373.0,138.6L373.4,139.2L373.8,139.8L374.2,140.5L374.6,141.2L375.0,141.8L375.4,142.5L375.8,143.2L376.1,144.0L376.5,144.7L376.8,145.4L377.1,146.1L377.4,146.9L377.7,147.6L378.0,148.4L378.3,149.1L378.6,149.9L378.8,150.6L379.1,151.4L379.4,152.2L379.6,152.9L379.9,153.7L380.1,154.4L380.4,155.2L380.6,155.9L380.8,156.7L381.0,157.4L381.3,158.1L381.5,158.9L381.7,159.6L381.9,160.3L382.2,161.0L382.4,161.8L382.6,162.5L382.8,163.2L383.0,163.9L383.2,164.6L383.4,165.4L383.6,166.1L383.8,166.8L384.0,167.5L384.2,168.2L384.4,168.9L384.6,169.6L384.8,170.4L385.0,171.1L385.2,171.8L385.4,172.5L385.5,173.2L385.7,174.0L385.9,174.7L386.1,175.4L386.3,176.1L386.5,176.9L386.7,177.6L386.9,178.4L387.1,179.1L387.3,179.8L387.5,180.6L387.7,181.4L387.9,182.1L388.1,182.9L388.3,183.7L388.5,184.5L388.7,185.3L388.9,186.1L389.1,186.9L389.3,187.7L389.5,188.6L389.7,189.4L389.9,190.3L390.1,191.2L390.3,192.1L390.5,193.0L390.7,193.9L390.9,194.9L391.1,195.8L391.3,196.8L391.5,197.7L391.7,198.6L391.9,199.5L392.2,200.3L392.4,201.1L392.6,201.8L392.9,202.4L393.2,202.9L393.4,203.3L393.7,203.7L394.0,203.9L394.3,203.9L394.6,203.9L394.9,203.7L395.3,203.4L395.6,202.9L396.0,202.4L396.3,201.8L396.6,201.0L397.0,200.3L397.3,199.4L397.6,198.5L397.9,197.6L398.2,196.7L398.5,195.7L398.8,194.8L399.0,193.9L399.3,193.0L399.5,192.1L399.7,191.3L399.9,190.4L400.1,189.6L400.3,188.8L400.5,188.0L400.6,187.2L400.8,186.4L400.9,185.6L401.1,184.8L401.2,184.1L401.4,183.3L401.5,182.6L401.6,181.9L401.8,181.1L401.9,180.4L402.1,179.7L402.2,178.9L402.3,178.2L402.5,177.4L402.6,176.7L402.8,176.0L402.9,175.2L403.1,174.5L403.2,173.8L403.4,173.0L403.6,172.3L403.7,171.6L403.9,170.8L404.1,170.1L404.2,169.4L404.4,168.6L404.6,167.9L404.8,167.1L404.9,166.4L405.1,165.7L405.3,164.9L405.5,164.2L405.7,163.5L405.9,162.7L406.1,162.0L406.3,161.3L406.5,160.5L406.7,159.8L406.9,159.0L407.1,158.3L407.3,157.6L407.5,156.8L407.7,156.1L407.9,155.4L408.1,154.6L408.3,153.9L408.5,153.2L408.8,152.4L409.0,151.7L409.2,151.0L409.4,150.2L409.7,149.5L409.9,148.7L410.1,148.0L410.4,147.3L410.6,146.5L410.8,145.8L411.1,145.1L411.3,144.3L411.5,143.6L411.8,142.9L412.0,142.1L412.3,141.4L412.5,140.7L412.8,139.9L413.0,139.2L413.3,138.5L413.5,137.8L413.8,137.0L414.1,136.3L414.3,135.6L414.6,134.8L414.9,134.1L415.1,133.4L415.4,132.7L415.7,131.9L415.9,131.2L416.2,130.5L416.5,129.7L416.8,129.0L417.0,128.3L417.3,127.6L417.6,126.8L417.9,126.1L418.2,125.4L418.4,124.7L418.7,124.0L419.0,123.2L419.3,122.5L419.6,121.8L419.9,121.1L420.2,120.4L420.5,119.6L420.8,118.9L421.1,118.2L421.4,117.5L421.7,116.8L422.0,116.1L422.3,115.3L422.6,114.6L422.9,113.9L423.2,113.2L423.5,112.5L423.8,111.8L424.1,111.1L424.4,110.4L424.7,109.7L425.1,109.0L425.4,108.2L425.7,107.5L426.0,106.8L426.3,106.1L426.7,105.4L427.0,104.7L427.3,104.0L427.7,103.3L428.0,102.6L428.3,101.9L428.7,101.2L429.0,100.5L429.3,99.9L429.7,99.2L430.0,98.5L430.4,97.8L430.7,97.1L431.1,96.4L431.4,95.7L431.8,95.0L432.1,94.3L432.5,93.7L432.8,93.0L433.2,92.3L433.6,91.6L433.9,90.9L434.3,90.3L434.7,89.6L435.0,88.9L435.4,88.2L435.8,87.6L436.2,86.9L436.5,86.2L436.9,85.5L437.3,84.9L437.7,84.2L438.1,83.5L438.5,82.9L438.9,82.2L439.3,81.6L439.7,80.9L440.1,80.2L440.5,79.6L440.9,78.9L441.3,78.3L441.7,77.6L442.1,77.0L442.5,76.3L442.9,75.7L443.3,75.0L443.8,74.4L444.2,73.8L444.6,73.1L445.0,72.5L445.5,71.8L445.9,71.2L446.3,70.6L446.8,69.9L447.2,69.3L447.7,68.7L448.1,68.1L448.6,67.4L449.0,66.8L449.5,66.2L449.9,65.6L450.4,65.0L450.8,64.4L451.3,63.7L451.8,63.1L452.2,62.5L452.7,61.9L453.2,61.3L453.7,60.7L454.1,60.1L454.6,59.5L455.1,58.9L455.6,58.3L456.1,57.7L456.6,57.1L457.1,56.5L457.6,56.0L458.1,55.4L458.6,54.8L459.1,54.2L459.6,53.6L460.2,53.1L460.7,52.5L461.2,51.9L461.7,51.3L462.3,50.8L462.8,50.2L463.3,49.7L463.9,49.1L464.4,48.5L464.9,48.0L465.5,47.4L466.0,46.9L466.6,46.3L467.2,45.8L467.7,45.2L468.3,44.7L468.8,44.2L469.4,43.6L470.0,43.1L470.6,42.6L471.1,42.1L471.7,41.6L472.3,41.1L472.9,40.6L473.5,40.1L474.1,39.6L474.7,39.1L475.3,38.6L475.9,38.1L476.5,37.7L477.2,37.2L477.8,36.8L478.4,36.3L479.0,35.9L479.7,35.4L480.3,35.0L481.0,34.6L481.6,34.2L482.3,33.8L482.9,33.4L483.6,33.0L484.2,32.6L484.9,32.2L485.6,31.9L486.2,31.5L486.9,31.2L487.6,30.9L488.3,30.5L489.0,30.2L489.7,29.9L490.4,29.6L491.1,29.4L491.8,29.1L492.5,28.8L493.2,28.6L494.0,28.3L494.7,28.1L495.4,27.9L496.2,27.7L496.9,27.5L497.6,27.3L498.4,27.1L499.1,26.9L499.9,26.8L500.7,26.6L501.4,26.5L502.2,26.3L502.9,26.2L503.7,26.1L504.5,25.9L505.3,25.8L506.0,25.7L506.8,25.6L507.6,25.5L508.4,25.4L509.1,25.3L509.9,25.2L510.7,25.2L511.5,25.1L512.3,25.0L513.1,24.9L513.8,24.9L514.6,24.8L515.4,24.7L516.2,24.7L517.0,24.6L517.8,24.6L518.6,24.5L519.4,24.5L520.1,24.4L520.9,24.3L521.7,24.3L522.5,24.2L523.3,24.2L524.1,24.1L524.8,24.1L525.6,24.0L526.4,23.9L527.2,23.9L527.9,23.8L528.7,23.7L529.5,23.7L530.2,23.6L531.0,23.5L531.7,23.4L532.5,23.3L533.3,23.3L534.0,23.2L534.7,23.1L535.5,22.9L536.2,22.8L537.0,22.7L537.7,22.6" stroke="#fb5208" stroke-width="4.3" stroke-dasharray="15.6 3.7 8.3 3.3"/></g>
<g class="tk"><text x="56.9" y="297.6" text-anchor="middle">2</text><text x="153.4" y="297.6" text-anchor="middle">3</text><text x="249.3" y="297.6" text-anchor="middle">4</text><text x="345.4" y="297.6" text-anchor="middle">5</text><text x="441.6" y="297.6" text-anchor="middle">6</text><text x="537.9" y="297.6" text-anchor="middle">7</text><text x="50.6" y="19.10" text-anchor="end">0</text><text x="50.6" y="85.00" text-anchor="end">-10</text><text x="50.6" y="150.75" text-anchor="end">-20</text><text x="50.6" y="216.40" text-anchor="end">-30</text><text x="50.6" y="282.10" text-anchor="end">-40</text></g>
<rect x="56.9" y="111.3" width="113.2" height="162.9" fill="#fff" stroke="#5e5e5e" stroke-width="1"/><line x1="60" y1="125.3" x2="92.5" y2="125.3" stroke="#0000ff" stroke-width="4.3"/><text x="94.5" y="128.4" class="lg">S</text><text x="105.8" y="135.4" class="sub">11</text><text x="124.4" y="128.4" class="lg">[Sim.]</text><line x1="60" y1="152.5" x2="92.5" y2="152.5" stroke="#ff00ff" stroke-width="4.3"/><text x="94.5" y="155.6" class="lg">S</text><text x="105.8" y="162.6" class="sub">21</text><text x="124.4" y="155.6" class="lg">[Sim.]</text><line x1="60" y1="179.6" x2="92.5" y2="179.6" stroke="#ff0000" stroke-width="4.3"/><text x="94.5" y="182.7" class="lg">S</text><text x="105.8" y="189.7" class="sub">22</text><text x="124.4" y="182.7" class="lg">[Sim.]</text><line x1="60" y1="206.3" x2="92.5" y2="206.3" stroke="#0072bd" stroke-width="4.3" stroke-dasharray="15.6 3.7 8.3 3.3"/><text x="94.5" y="209.4" class="lg">S</text><text x="105.8" y="216.4" class="sub">11</text><text x="124.4" y="209.4" class="lg">[Mea.]</text><line x1="60" y1="234.2" x2="92.5" y2="234.2" stroke="#ff8fc8" stroke-width="4.3" stroke-dasharray="15.6 3.7 8.3 3.3"/><text x="94.5" y="237.3" class="lg">S</text><text x="105.8" y="244.3" class="sub">21</text><text x="124.4" y="237.3" class="lg">[Mea.]</text><line x1="60" y1="261.4" x2="92.5" y2="261.4" stroke="#fb5208" stroke-width="4.3" stroke-dasharray="15.6 3.7 8.3 3.3"/><text x="94.5" y="264.5" class="lg">S</text><text x="105.8" y="271.5" class="sub">22</text><text x="124.4" y="264.5" class="lg">[Mea.]</text>
<rect x="63.2" y="274.6" width="2.2" height="1.3" fill="#ff8fc8"/><rect x="70.9" y="274.6" width="2.4" height="1.4" fill="#ff00ff"/>
<text x="297" y="321.5" text-anchor="middle" class="ax">Frequency [GHz]</text>
<text transform="translate(16.6,144.0) rotate(-90)" text-anchor="middle" class="ay" textLength="156" lengthAdjust="spacing">S-Parameters [dB]</text>
</svg>
</body></html>
